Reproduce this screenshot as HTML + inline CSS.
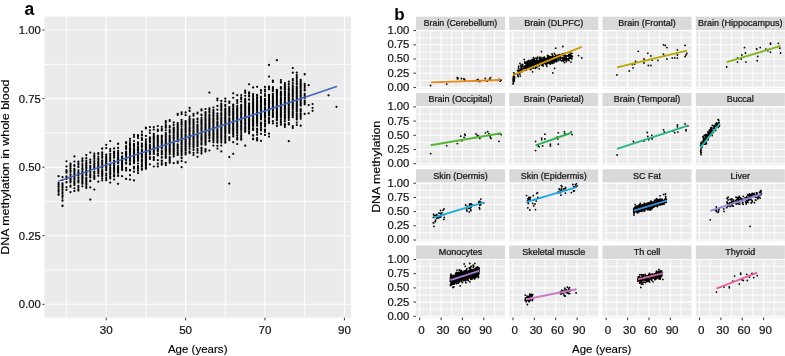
<!DOCTYPE html>
<html><head><meta charset="utf-8"><style>
html,body{margin:0;padding:0;background:#fff;}
body{width:785px;height:356px;overflow:hidden;}
svg{display:block;}
text{font-family:"Liberation Sans", Arial, sans-serif;}
</style></head><body>
<svg width="785" height="356" viewBox="0 0 785 356">
<rect width="785" height="356" fill="#fff"/>
<rect x="44.5" y="16.5" width="306.5" height="301.2" fill="#EBEBEB"/>
<path d="M66.5 16.5V317.7M145.9 16.5V317.7M225.3 16.5V317.7M304.7 16.5V317.7M44.5 270H351.0M44.5 201.4H351.0M44.5 132.9H351.0M44.5 64.3H351.0" stroke="#fff" stroke-width="0.9" fill="none"/>
<path d="M106.2 16.5V317.7M185.6 16.5V317.7M265 16.5V317.7M344.4 16.5V317.7M44.5 304.3H351.0M44.5 235.7H351.0M44.5 167.2H351.0M44.5 98.6H351.0M44.5 30H351.0" stroke="#fff" stroke-width="1.1" fill="none"/>
<path d="M58.6 186.9h0M58.6 184.5h0M58.6 189.1h0M58.6 194.0h0M58.6 190.5h0M58.6 194.8h0M58.6 186.4h0M58.6 176.2h0M58.6 190.8h0M58.6 191.8h0M58.6 183.0h0M58.6 184.1h0M58.6 186.1h0M58.6 194.3h0M62.5 185.8h0M62.5 180.0h0M62.5 196.3h0M62.5 189.2h0M62.5 200.7h0M62.5 195.9h0M62.5 200.3h0M62.5 187.4h0M62.5 195.7h0M62.5 183.4h0M62.5 184.3h0M62.5 187.0h0M62.5 205.7h0M62.5 189.9h0M62.5 185.9h0M62.5 184.6h0M62.5 197.8h0M62.5 189.4h0M62.5 193.4h0M62.5 192.0h0M62.5 177.1h0M62.5 192.0h0M66.5 170.2h0M66.5 182.0h0M66.5 178.2h0M66.5 176.5h0M66.5 176.8h0M66.5 187.2h0M66.5 176.7h0M66.5 166.4h0M66.5 189.8h0M66.5 170.4h0M66.5 176.4h0M66.5 182.5h0M66.5 161.3h0M66.5 171.2h0M66.5 187.0h0M66.5 176.7h0M66.5 172.7h0M66.5 178.9h0M66.5 171.9h0M70.5 172.0h0M70.5 164.4h0M70.5 181.4h0M70.5 174.3h0M70.5 179.7h0M70.5 175.0h0M70.5 185.6h0M70.5 180.7h0M70.5 177.6h0M70.5 168.7h0M70.5 166.7h0M70.5 186.7h0M70.5 182.4h0M70.5 170.8h0M70.5 192.1h0M70.5 179.7h0M70.5 176.8h0M70.5 165.8h0M70.5 170.4h0M70.5 178.6h0M70.5 179.0h0M70.5 178.0h0M70.5 163.7h0M70.5 179.4h0M70.5 178.4h0M74.4 161.5h0M74.4 183.7h0M74.4 174.7h0M74.4 178.2h0M74.4 165.2h0M74.4 169.3h0M74.4 174.8h0M74.4 169.2h0M74.4 177.4h0M74.4 166.1h0M74.4 174.7h0M74.4 169.9h0M74.4 185.1h0M74.4 171.8h0M74.4 188.3h0M74.4 191.1h0M74.4 177.1h0M74.4 181.9h0M74.4 173.3h0M74.4 156.4h0M74.4 181.4h0M74.4 179.7h0M74.4 173.0h0M74.4 170.6h0M74.4 176.1h0M74.4 176.3h0M74.4 168.9h0M74.4 170.4h0M74.4 183.0h0M74.4 175.3h0M74.4 174.3h0M74.4 183.2h0M74.4 172.5h0M74.4 181.6h0M78.4 172.6h0M78.4 178.1h0M78.4 174.2h0M78.4 189.6h0M78.4 182.5h0M78.4 170.3h0M78.4 190.6h0M78.4 166.4h0M78.4 187.5h0M78.4 167.1h0M78.4 180.2h0M78.4 166.9h0M78.4 172.2h0M78.4 185.8h0M78.4 163.1h0M78.4 161.5h0M78.4 173.8h0M78.4 175.5h0M78.4 174.6h0M78.4 181.2h0M78.4 164.3h0M78.4 177.7h0M82.4 179.5h0M82.4 177.1h0M82.4 182.4h0M82.4 161.6h0M82.4 173.2h0M82.4 164.0h0M82.4 171.8h0M82.4 177.6h0M82.4 174.6h0M82.4 176.5h0M82.4 171.9h0M82.4 175.0h0M82.4 174.4h0M82.4 183.2h0M82.4 178.5h0M82.4 158.4h0M82.4 177.4h0M82.4 180.6h0M82.4 169.2h0M82.4 160.4h0M82.4 183.8h0M82.4 173.6h0M82.4 177.1h0M82.4 186.3h0M82.4 165.9h0M82.4 172.1h0M82.4 171.3h0M82.4 178.1h0M82.4 168.2h0M82.4 176.3h0M82.4 173.1h0M82.4 181.0h0M82.4 181.9h0M82.4 161.0h0M82.4 176.1h0M82.4 169.5h0M82.4 172.2h0M86.3 186.1h0M86.3 173.1h0M86.3 171.8h0M86.3 170.4h0M86.3 160.9h0M86.3 165.0h0M86.3 167.4h0M86.3 175.2h0M86.3 181.9h0M86.3 162.8h0M86.3 162.6h0M86.3 171.7h0M86.3 166.1h0M86.3 164.1h0M86.3 163.7h0M86.3 163.0h0M86.3 174.3h0M86.3 158.1h0M86.3 180.8h0M86.3 163.5h0M86.3 166.5h0M86.3 163.4h0M86.3 155.1h0M86.3 158.4h0M86.3 180.0h0M86.3 184.5h0M86.3 163.9h0M86.3 178.9h0M86.3 170.7h0M86.3 163.7h0M86.3 184.1h0M86.3 187.9h0M86.3 168.4h0M86.3 170.2h0M86.3 172.6h0M86.3 170.3h0M86.3 177.7h0M86.3 183.0h0M86.3 171.9h0M90.3 199.6h0M90.3 169.7h0M90.3 165.9h0M90.3 177.4h0M90.3 174.7h0M90.3 177.5h0M90.3 176.5h0M90.3 167.6h0M90.3 175.7h0M90.3 166.3h0M90.3 166.4h0M90.3 152.5h0M90.3 180.7h0M90.3 161.9h0M90.3 170.0h0M90.3 169.3h0M90.3 181.2h0M90.3 173.0h0M90.3 163.1h0M90.3 169.9h0M90.3 168.6h0M90.3 171.6h0M90.3 159.7h0M90.3 169.4h0M90.3 187.4h0M90.3 174.9h0M94.3 167.7h0M94.3 172.3h0M94.3 156.8h0M94.3 167.5h0M94.3 177.6h0M94.3 175.7h0M94.3 158.5h0M94.3 166.6h0M94.3 167.5h0M94.3 168.3h0M94.3 167.6h0M94.3 161.2h0M94.3 163.3h0M94.3 166.1h0M94.3 176.5h0M94.3 163.6h0M94.3 173.6h0M94.3 158.8h0M94.3 178.4h0M94.3 169.0h0M94.3 167.9h0M94.3 178.9h0M94.3 153.6h0M94.3 155.7h0M94.3 171.7h0M94.3 161.5h0M94.3 164.7h0M94.3 189.6h0M94.3 165.8h0M94.3 168.4h0M98.3 173.5h0M98.3 168.0h0M98.3 156.6h0M98.3 163.7h0M98.3 166.6h0M98.3 153.8h0M98.3 171.1h0M98.3 169.8h0M98.3 181.7h0M98.3 153.4h0M98.3 158.5h0M98.3 158.9h0M98.3 160.9h0M98.3 165.6h0M98.3 164.7h0M98.3 168.6h0M98.3 168.2h0M98.3 166.1h0M98.3 153.9h0M98.3 161.9h0M98.3 167.0h0M98.3 171.4h0M98.3 171.8h0M98.3 153.2h0M98.3 162.3h0M98.3 166.0h0M98.3 169.4h0M98.3 175.8h0M98.3 167.1h0M98.3 159.2h0M102.2 180.5h0M102.2 164.2h0M102.2 178.5h0M102.2 167.1h0M102.2 172.3h0M102.2 157.8h0M102.2 171.6h0M102.2 160.3h0M102.2 152.4h0M102.2 167.8h0M102.2 170.2h0M102.2 163.6h0M102.2 165.2h0M102.2 173.5h0M102.2 161.3h0M102.2 148.3h0M102.2 167.3h0M102.2 166.9h0M102.2 173.9h0M102.2 162.5h0M102.2 175.6h0M102.2 174.4h0M102.2 154.4h0M102.2 172.8h0M102.2 156.1h0M102.2 152.4h0M102.2 163.0h0M102.2 160.5h0M102.2 148.8h0M102.2 166.8h0M102.2 170.1h0M102.2 176.5h0M102.2 164.8h0M102.2 152.8h0M102.2 157.1h0M106.2 166.9h0M106.2 161.4h0M106.2 165.5h0M106.2 162.0h0M106.2 161.3h0M106.2 166.3h0M106.2 164.2h0M106.2 162.1h0M106.2 164.5h0M106.2 159.6h0M106.2 148.1h0M106.2 158.8h0M106.2 163.3h0M106.2 178.0h0M106.2 160.5h0M106.2 180.2h0M106.2 175.7h0M106.2 156.6h0M106.2 157.9h0M106.2 165.1h0M106.2 178.2h0M106.2 166.9h0M106.2 169.5h0M106.2 158.5h0M106.2 144.8h0M106.2 162.0h0M106.2 170.4h0M106.2 173.7h0M106.2 164.3h0M106.2 165.3h0M106.2 173.5h0M106.2 162.8h0M106.2 173.5h0M106.2 154.5h0M106.2 154.9h0M106.2 154.7h0M106.2 167.8h0M106.2 159.5h0M110.2 182.6h0M110.2 173.4h0M110.2 174.7h0M110.2 155.7h0M110.2 164.1h0M110.2 160.6h0M110.2 154.0h0M110.2 177.1h0M110.2 169.1h0M110.2 161.0h0M110.2 159.1h0M110.2 165.6h0M110.2 153.8h0M110.2 160.7h0M110.2 172.7h0M110.2 170.3h0M110.2 155.7h0M110.2 158.5h0M110.2 178.5h0M110.2 151.1h0M110.2 157.4h0M110.2 151.1h0M110.2 165.7h0M110.2 165.0h0M110.2 172.0h0M110.2 141.0h0M110.2 163.9h0M110.2 149.0h0M110.2 167.9h0M110.2 161.1h0M110.2 176.6h0M110.2 165.7h0M110.2 154.1h0M114.1 179.5h0M114.1 170.0h0M114.1 165.4h0M114.1 165.0h0M114.1 161.5h0M114.1 165.7h0M114.1 168.1h0M114.1 163.7h0M114.1 169.8h0M114.1 172.1h0M114.1 161.5h0M114.1 153.6h0M114.1 174.1h0M114.1 161.1h0M114.1 166.6h0M114.1 169.4h0M114.1 153.9h0M114.1 165.5h0M114.1 148.4h0M114.1 167.7h0M114.1 157.8h0M114.1 163.0h0M114.1 167.5h0M114.1 156.1h0M114.1 162.4h0M114.1 156.0h0M114.1 161.5h0M114.1 170.3h0M114.1 162.0h0M114.1 160.7h0M114.1 153.0h0M114.1 168.8h0M114.1 161.4h0M114.1 175.7h0M114.1 155.6h0M114.1 170.3h0M114.1 176.5h0M114.1 161.6h0M114.1 151.7h0M114.1 174.1h0M114.1 170.3h0M114.1 167.4h0M118.1 161.4h0M118.1 165.9h0M118.1 154.8h0M118.1 166.2h0M118.1 156.1h0M118.1 168.0h0M118.1 170.1h0M118.1 175.4h0M118.1 143.9h0M118.1 162.5h0M118.1 157.7h0M118.1 160.0h0M118.1 158.4h0M118.1 159.3h0M118.1 143.5h0M118.1 168.6h0M118.1 173.0h0M118.1 168.4h0M118.1 171.1h0M118.1 153.4h0M118.1 152.8h0M118.1 168.0h0M118.1 171.6h0M118.1 162.8h0M118.1 147.9h0M118.1 183.8h0M118.1 155.3h0M118.1 168.9h0M118.1 150.9h0M118.1 169.0h0M118.1 162.2h0M118.1 172.6h0M118.1 168.1h0M118.1 147.9h0M118.1 152.8h0M118.1 163.2h0M118.1 167.2h0M118.1 175.9h0M118.1 163.1h0M118.1 160.0h0M118.1 160.5h0M118.1 160.6h0M118.1 169.3h0M118.1 160.3h0M122.1 166.3h0M122.1 159.6h0M122.1 165.0h0M122.1 159.0h0M122.1 163.6h0M122.1 164.8h0M122.1 158.9h0M122.1 167.3h0M122.1 153.2h0M122.1 159.3h0M122.1 156.3h0M122.1 160.0h0M122.1 164.6h0M122.1 166.5h0M122.1 160.4h0M122.1 163.1h0M122.1 156.4h0M122.1 158.4h0M122.1 170.1h0M122.1 157.8h0M122.1 169.9h0M122.1 163.7h0M122.1 160.9h0M122.1 176.2h0M122.1 157.6h0M122.1 157.1h0M122.1 159.8h0M122.1 162.0h0M122.1 161.6h0M122.1 166.8h0M122.1 160.7h0M122.1 163.1h0M122.1 157.6h0M122.1 168.7h0M122.1 156.4h0M122.1 157.2h0M122.1 159.6h0M126.1 146.8h0M126.1 153.1h0M126.1 155.0h0M126.1 154.6h0M126.1 153.8h0M126.1 162.7h0M126.1 159.3h0M126.1 151.6h0M126.1 153.3h0M126.1 155.3h0M126.1 170.1h0M126.1 152.4h0M126.1 147.0h0M126.1 148.4h0M126.1 155.0h0M126.1 170.5h0M126.1 148.9h0M126.1 158.3h0M126.1 178.9h0M126.1 153.8h0M126.1 169.9h0M126.1 168.2h0M126.1 162.5h0M126.1 146.1h0M126.1 160.2h0M126.1 154.7h0M126.1 142.0h0M126.1 143.3h0M126.1 157.9h0M126.1 159.1h0M126.1 167.9h0M126.1 163.0h0M126.1 153.4h0M126.1 153.6h0M126.1 156.1h0M126.1 148.5h0M126.1 163.7h0M126.1 157.5h0M130.0 144.6h0M130.0 152.3h0M130.0 158.4h0M130.0 152.6h0M130.0 164.4h0M130.0 169.9h0M130.0 150.7h0M130.0 156.2h0M130.0 153.0h0M130.0 170.4h0M130.0 158.9h0M130.0 160.9h0M130.0 163.2h0M130.0 175.2h0M130.0 158.6h0M130.0 147.9h0M130.0 152.4h0M130.0 160.9h0M130.0 155.8h0M130.0 149.2h0M130.0 179.6h0M130.0 156.8h0M130.0 151.0h0M130.0 149.8h0M130.0 141.0h0M130.0 145.9h0M130.0 153.0h0M130.0 153.1h0M130.0 148.9h0M130.0 160.4h0M130.0 156.0h0M130.0 147.9h0M130.0 138.8h0M130.0 157.1h0M130.0 156.1h0M130.0 154.0h0M130.0 144.1h0M130.0 156.0h0M130.0 143.0h0M130.0 164.1h0M130.0 157.3h0M130.0 157.4h0M134.0 180.4h0M134.0 171.7h0M134.0 151.4h0M134.0 160.1h0M134.0 167.6h0M134.0 145.3h0M134.0 150.1h0M134.0 150.1h0M134.0 158.5h0M134.0 145.4h0M134.0 156.4h0M134.0 144.8h0M134.0 162.3h0M134.0 161.8h0M134.0 152.6h0M134.0 160.4h0M134.0 148.5h0M134.0 152.1h0M134.0 162.4h0M134.0 153.7h0M134.0 157.4h0M134.0 146.4h0M134.0 159.8h0M134.0 158.2h0M134.0 143.8h0M134.0 134.9h0M134.0 137.0h0M134.0 153.8h0M134.0 152.4h0M134.0 141.0h0M134.0 155.4h0M134.0 162.8h0M134.0 153.3h0M134.0 150.4h0M134.0 161.5h0M134.0 168.6h0M134.0 166.8h0M134.0 148.6h0M134.0 160.9h0M134.0 155.6h0M134.0 152.5h0M134.0 149.0h0M134.0 157.3h0M134.0 150.0h0M134.0 162.1h0M134.0 157.5h0M134.0 163.2h0M134.0 144.5h0M134.0 154.6h0M134.0 160.8h0M134.0 157.4h0M134.0 156.3h0M134.0 148.3h0M138.0 149.4h0M138.0 144.7h0M138.0 154.0h0M138.0 146.8h0M138.0 135.0h0M138.0 155.0h0M138.0 156.2h0M138.0 142.4h0M138.0 148.7h0M138.0 147.1h0M138.0 157.4h0M138.0 136.2h0M138.0 138.1h0M138.0 148.1h0M138.0 147.0h0M138.0 170.7h0M138.0 147.4h0M138.0 154.7h0M138.0 149.2h0M138.0 147.0h0M138.0 156.0h0M138.0 167.7h0M138.0 149.8h0M138.0 159.5h0M138.0 155.9h0M138.0 158.3h0M138.0 156.0h0M138.0 173.1h0M138.0 142.4h0M138.0 150.8h0M138.0 143.3h0M138.0 135.7h0M138.0 152.8h0M138.0 168.7h0M138.0 160.8h0M138.0 163.5h0M138.0 157.4h0M138.0 152.3h0M138.0 170.5h0M138.0 150.0h0M138.0 166.2h0M141.9 163.0h0M141.9 146.9h0M141.9 156.4h0M141.9 157.0h0M141.9 166.4h0M141.9 151.9h0M141.9 135.5h0M141.9 134.3h0M141.9 140.1h0M141.9 145.5h0M141.9 157.6h0M141.9 139.0h0M141.9 152.1h0M141.9 152.2h0M141.9 154.2h0M141.9 150.8h0M141.9 155.5h0M141.9 152.4h0M141.9 161.1h0M141.9 154.9h0M141.9 131.7h0M141.9 152.3h0M141.9 153.7h0M141.9 147.0h0M141.9 145.4h0M141.9 161.4h0M141.9 153.5h0M141.9 143.6h0M141.9 149.3h0M141.9 150.6h0M141.9 138.0h0M141.9 157.6h0M141.9 150.9h0M141.9 156.2h0M141.9 138.6h0M141.9 168.7h0M141.9 157.5h0M141.9 156.3h0M141.9 145.8h0M141.9 146.3h0M141.9 139.4h0M141.9 165.4h0M141.9 145.1h0M141.9 154.2h0M141.9 157.5h0M141.9 146.9h0M141.9 159.7h0M141.9 169.8h0M141.9 154.9h0M141.9 164.8h0M145.9 164.1h0M145.9 128.4h0M145.9 163.8h0M145.9 156.9h0M145.9 158.4h0M145.9 161.0h0M145.9 146.5h0M145.9 156.0h0M145.9 167.7h0M145.9 144.2h0M145.9 151.3h0M145.9 147.2h0M145.9 149.4h0M145.9 144.7h0M145.9 150.0h0M145.9 139.4h0M145.9 146.6h0M145.9 146.8h0M145.9 146.7h0M145.9 163.1h0M145.9 151.7h0M145.9 152.6h0M145.9 148.5h0M145.9 162.2h0M145.9 135.9h0M145.9 149.4h0M145.9 161.0h0M145.9 165.3h0M145.9 152.8h0M145.9 151.1h0M145.9 156.6h0M145.9 149.5h0M145.9 155.9h0M145.9 145.4h0M145.9 156.7h0M145.9 150.6h0M145.9 141.7h0M145.9 127.7h0M145.9 159.2h0M145.9 154.4h0M145.9 157.7h0M145.9 143.4h0M145.9 160.4h0M145.9 154.6h0M145.9 150.6h0M145.9 158.9h0M145.9 158.7h0M145.9 154.5h0M145.9 168.8h0M145.9 163.0h0M145.9 153.9h0M145.9 149.0h0M145.9 151.9h0M145.9 165.9h0M145.9 154.4h0M145.9 143.3h0M145.9 145.4h0M145.9 151.0h0M145.9 158.1h0M145.9 144.7h0M145.9 155.4h0M145.9 160.6h0M149.9 139.5h0M149.9 153.2h0M149.9 140.6h0M149.9 154.3h0M149.9 150.3h0M149.9 127.0h0M149.9 142.2h0M149.9 153.4h0M149.9 149.7h0M149.9 146.1h0M149.9 138.2h0M149.9 153.3h0M149.9 164.3h0M149.9 151.4h0M149.9 148.8h0M149.9 148.0h0M149.9 137.3h0M149.9 146.1h0M149.9 141.8h0M149.9 158.7h0M149.9 141.3h0M149.9 130.4h0M149.9 142.1h0M149.9 146.7h0M149.9 147.6h0M149.9 133.1h0M149.9 157.1h0M149.9 149.9h0M149.9 144.9h0M149.9 142.4h0M149.9 152.8h0M149.9 146.2h0M149.9 151.4h0M149.9 147.9h0M149.9 150.1h0M149.9 159.0h0M149.9 149.1h0M149.9 141.2h0M149.9 157.5h0M149.9 151.1h0M153.8 143.0h0M153.8 157.0h0M153.8 137.5h0M153.8 127.1h0M153.8 129.6h0M153.8 149.5h0M153.8 141.0h0M153.8 146.5h0M153.8 146.7h0M153.8 133.8h0M153.8 159.3h0M153.8 138.2h0M153.8 148.0h0M153.8 135.1h0M153.8 145.9h0M153.8 153.6h0M153.8 145.1h0M153.8 141.1h0M153.8 147.3h0M153.8 143.3h0M153.8 152.2h0M153.8 166.5h0M153.8 139.6h0M153.8 141.4h0M153.8 146.3h0M153.8 147.0h0M153.8 138.4h0M153.8 151.6h0M153.8 153.9h0M153.8 149.3h0M153.8 137.0h0M153.8 159.9h0M153.8 137.0h0M153.8 153.3h0M153.8 157.4h0M153.8 136.4h0M153.8 148.4h0M153.8 159.1h0M153.8 150.8h0M153.8 139.3h0M153.8 137.0h0M153.8 151.4h0M153.8 144.0h0M153.8 141.2h0M153.8 153.3h0M157.8 149.9h0M157.8 150.6h0M157.8 145.6h0M157.8 146.0h0M157.8 151.3h0M157.8 150.0h0M157.8 136.3h0M157.8 144.3h0M157.8 138.3h0M157.8 135.5h0M157.8 141.0h0M157.8 126.0h0M157.8 153.6h0M157.8 139.0h0M157.8 149.1h0M157.8 129.7h0M157.8 131.1h0M157.8 163.7h0M157.8 154.9h0M157.8 140.3h0M157.8 139.2h0M157.8 139.7h0M157.8 146.9h0M157.8 142.2h0M157.8 140.4h0M157.8 146.9h0M157.8 137.1h0M157.8 166.4h0M157.8 140.6h0M157.8 155.5h0M157.8 137.7h0M157.8 148.3h0M157.8 154.2h0M157.8 142.9h0M157.8 154.4h0M157.8 154.4h0M157.8 160.2h0M157.8 146.5h0M157.8 141.8h0M157.8 137.1h0M157.8 147.5h0M157.8 136.9h0M157.8 146.1h0M157.8 147.1h0M157.8 141.1h0M157.8 136.8h0M157.8 149.3h0M157.8 148.4h0M161.8 146.7h0M161.8 135.7h0M161.8 148.5h0M161.8 140.7h0M161.8 152.3h0M161.8 141.7h0M161.8 141.4h0M161.8 148.6h0M161.8 126.8h0M161.8 141.6h0M161.8 129.0h0M161.8 136.3h0M161.8 150.8h0M161.8 148.3h0M161.8 141.0h0M161.8 144.3h0M161.8 144.4h0M161.8 147.4h0M161.8 161.1h0M161.8 146.9h0M161.8 164.7h0M161.8 141.6h0M161.8 151.4h0M161.8 151.3h0M161.8 146.8h0M161.8 142.4h0M161.8 157.7h0M161.8 160.5h0M161.8 154.4h0M161.8 163.2h0M161.8 153.5h0M161.8 130.6h0M161.8 154.3h0M161.8 139.1h0M161.8 157.2h0M161.8 142.2h0M161.8 147.7h0M161.8 145.4h0M161.8 139.8h0M161.8 129.2h0M161.8 143.1h0M161.8 143.8h0M161.8 153.6h0M161.8 139.7h0M161.8 147.1h0M161.8 137.4h0M165.8 127.8h0M165.8 138.7h0M165.8 135.6h0M165.8 146.7h0M165.8 150.7h0M165.8 145.9h0M165.8 155.9h0M165.8 142.5h0M165.8 121.6h0M165.8 133.2h0M165.8 153.5h0M165.8 151.4h0M165.8 147.2h0M165.8 134.5h0M165.8 150.9h0M165.8 149.7h0M165.8 135.6h0M165.8 135.8h0M165.8 146.9h0M165.8 153.6h0M165.8 157.5h0M165.8 149.8h0M165.8 163.6h0M165.8 136.8h0M165.8 149.2h0M165.8 139.2h0M165.8 126.7h0M165.8 133.0h0M165.8 153.9h0M165.8 135.7h0M165.8 133.1h0M165.8 150.2h0M165.8 152.1h0M165.8 144.5h0M165.8 157.9h0M165.8 130.3h0M165.8 165.2h0M165.8 153.5h0M165.8 146.0h0M165.8 145.6h0M165.8 142.0h0M165.8 141.1h0M165.8 145.5h0M165.8 133.3h0M165.8 162.8h0M165.8 143.5h0M165.8 150.0h0M165.8 142.3h0M165.8 141.5h0M165.8 151.7h0M165.8 149.3h0M165.8 136.4h0M165.8 140.4h0M165.8 149.6h0M165.8 125.2h0M165.8 122.8h0M165.8 156.7h0M165.8 140.8h0M165.8 121.0h0M165.8 136.5h0M165.8 141.5h0M165.8 145.4h0M165.8 148.4h0M165.8 145.4h0M165.8 148.5h0M165.8 136.8h0M165.8 147.1h0M165.8 147.5h0M165.8 154.3h0M165.8 144.0h0M165.8 151.6h0M165.8 145.2h0M169.7 157.2h0M169.7 152.2h0M169.7 143.3h0M169.7 145.0h0M169.7 135.3h0M169.7 152.0h0M169.7 130.1h0M169.7 141.9h0M169.7 148.9h0M169.7 146.6h0M169.7 148.3h0M169.7 140.7h0M169.7 148.7h0M169.7 131.9h0M169.7 149.2h0M169.7 162.7h0M169.7 148.8h0M169.7 160.3h0M169.7 142.5h0M169.7 132.6h0M169.7 136.3h0M169.7 154.3h0M169.7 149.1h0M169.7 126.1h0M169.7 139.3h0M169.7 142.1h0M169.7 132.6h0M169.7 120.0h0M169.7 130.5h0M169.7 140.9h0M169.7 139.0h0M169.7 136.6h0M169.7 147.7h0M169.7 151.7h0M169.7 141.7h0M169.7 150.7h0M169.7 142.7h0M169.7 141.3h0M169.7 121.0h0M169.7 149.9h0M169.7 143.3h0M169.7 143.7h0M169.7 138.2h0M169.7 132.7h0M169.7 146.6h0M169.7 149.6h0M169.7 157.0h0M169.7 150.5h0M169.7 137.3h0M169.7 141.8h0M169.7 151.3h0M169.7 145.5h0M169.7 141.9h0M169.7 137.6h0M169.7 147.5h0M169.7 144.4h0M169.7 158.6h0M169.7 152.6h0M169.7 127.6h0M169.7 161.9h0M169.7 145.2h0M169.7 140.2h0M169.7 145.6h0M169.7 149.5h0M169.7 142.7h0M169.7 142.2h0M169.7 142.9h0M169.7 159.1h0M169.7 143.5h0M173.7 129.0h0M173.7 149.9h0M173.7 145.3h0M173.7 132.4h0M173.7 130.2h0M173.7 130.5h0M173.7 128.2h0M173.7 142.1h0M173.7 142.4h0M173.7 133.3h0M173.7 153.2h0M173.7 138.9h0M173.7 145.6h0M173.7 144.2h0M173.7 156.6h0M173.7 148.9h0M173.7 141.0h0M173.7 132.8h0M173.7 131.8h0M173.7 141.6h0M173.7 142.5h0M173.7 148.4h0M173.7 137.2h0M173.7 143.1h0M173.7 135.3h0M173.7 124.9h0M173.7 141.1h0M173.7 154.4h0M173.7 148.6h0M173.7 154.0h0M173.7 151.7h0M173.7 129.0h0M173.7 138.8h0M173.7 154.6h0M173.7 134.9h0M173.7 129.4h0M173.7 144.1h0M173.7 147.0h0M173.7 143.9h0M173.7 138.2h0M173.7 135.0h0M173.7 130.1h0M173.7 129.8h0M173.7 130.1h0M173.7 128.5h0M173.7 134.8h0M173.7 154.7h0M173.7 142.0h0M173.7 138.0h0M173.7 144.3h0M173.7 132.6h0M173.7 144.1h0M173.7 149.2h0M173.7 127.7h0M173.7 134.8h0M173.7 138.8h0M173.7 132.4h0M173.7 131.2h0M173.7 137.7h0M173.7 163.1h0M173.7 147.0h0M173.7 145.0h0M173.7 149.8h0M173.7 139.0h0M173.7 130.0h0M173.7 145.2h0M173.7 151.1h0M173.7 122.4h0M173.7 144.9h0M173.7 152.0h0M173.7 138.7h0M173.7 137.0h0M173.7 147.2h0M177.7 153.1h0M177.7 161.7h0M177.7 139.6h0M177.7 136.5h0M177.7 140.3h0M177.7 113.8h0M177.7 145.9h0M177.7 126.9h0M177.7 139.9h0M177.7 140.6h0M177.7 132.9h0M177.7 131.3h0M177.7 127.9h0M177.7 136.5h0M177.7 144.9h0M177.7 144.4h0M177.7 134.8h0M177.7 134.2h0M177.7 126.7h0M177.7 135.7h0M177.7 129.8h0M177.7 125.7h0M177.7 138.0h0M177.7 153.0h0M177.7 150.2h0M177.7 152.6h0M177.7 125.0h0M177.7 147.2h0M177.7 128.3h0M177.7 134.1h0M177.7 123.9h0M177.7 130.3h0M177.7 140.4h0M177.7 141.3h0M177.7 138.7h0M177.7 137.9h0M177.7 144.3h0M177.7 139.8h0M177.7 124.8h0M177.7 155.0h0M177.7 137.1h0M177.7 147.7h0M177.7 137.8h0M177.7 131.8h0M177.7 140.0h0M177.7 132.4h0M177.7 154.0h0M177.7 129.4h0M177.7 145.0h0M177.7 133.8h0M177.7 137.8h0M177.7 163.0h0M177.7 146.4h0M177.7 137.5h0M177.7 125.3h0M177.7 136.9h0M177.7 137.1h0M177.7 152.3h0M177.7 126.4h0M177.7 123.0h0M177.7 139.2h0M177.7 141.5h0M177.7 154.2h0M177.7 131.4h0M177.7 114.9h0M177.7 132.9h0M177.7 128.0h0M177.7 134.5h0M177.7 148.4h0M177.7 127.3h0M177.7 150.7h0M177.7 141.4h0M177.7 136.9h0M177.7 131.4h0M177.7 135.7h0M177.7 136.0h0M181.6 167.2h0M181.6 137.7h0M181.6 142.6h0M181.6 155.1h0M181.6 150.4h0M181.6 153.1h0M181.6 136.5h0M181.6 134.4h0M181.6 119.8h0M181.6 151.8h0M181.6 144.3h0M181.6 129.8h0M181.6 140.1h0M181.6 141.1h0M181.6 122.5h0M181.6 141.2h0M181.6 148.7h0M181.6 150.2h0M181.6 135.1h0M181.6 135.3h0M181.6 150.7h0M181.6 147.1h0M181.6 133.2h0M181.6 132.8h0M181.6 144.0h0M181.6 132.4h0M181.6 132.9h0M181.6 154.4h0M181.6 141.0h0M181.6 134.3h0M181.6 143.4h0M181.6 157.7h0M181.6 140.7h0M181.6 131.2h0M181.6 123.7h0M181.6 158.2h0M181.6 114.2h0M181.6 148.4h0M181.6 129.4h0M181.6 126.8h0M181.6 129.1h0M181.6 136.8h0M181.6 148.7h0M181.6 132.4h0M181.6 144.7h0M181.6 161.2h0M181.6 112.3h0M181.6 131.6h0M181.6 121.5h0M181.6 146.5h0M181.6 124.7h0M181.6 123.6h0M181.6 123.9h0M181.6 138.3h0M181.6 149.1h0M181.6 139.7h0M181.6 158.3h0M185.6 127.1h0M185.6 147.4h0M185.6 152.9h0M185.6 124.9h0M185.6 137.2h0M185.6 125.7h0M185.6 143.9h0M185.6 139.9h0M185.6 128.4h0M185.6 148.2h0M185.6 139.3h0M185.6 148.9h0M185.6 135.7h0M185.6 121.8h0M185.6 143.7h0M185.6 134.7h0M185.6 145.0h0M185.6 147.3h0M185.6 148.1h0M185.6 123.4h0M185.6 115.1h0M185.6 132.3h0M185.6 143.3h0M185.6 130.3h0M185.6 139.8h0M185.6 129.4h0M185.6 134.1h0M185.6 134.2h0M185.6 131.2h0M185.6 142.1h0M185.6 140.5h0M185.6 152.6h0M185.6 140.8h0M185.6 149.8h0M185.6 138.1h0M185.6 145.6h0M185.6 135.8h0M185.6 132.6h0M185.6 149.8h0M185.6 144.2h0M185.6 145.4h0M185.6 129.9h0M185.6 121.1h0M185.6 128.9h0M185.6 140.0h0M185.6 123.3h0M185.6 150.7h0M185.6 123.0h0M185.6 142.8h0M185.6 162.3h0M185.6 112.4h0M185.6 122.3h0M185.6 146.2h0M185.6 135.2h0M185.6 138.7h0M185.6 135.8h0M185.6 150.4h0M185.6 143.0h0M185.6 132.5h0M185.6 134.7h0M185.6 125.8h0M185.6 136.0h0M185.6 115.2h0M185.6 143.3h0M185.6 134.4h0M185.6 154.4h0M185.6 148.3h0M185.6 124.6h0M185.6 145.4h0M185.6 131.9h0M185.6 137.3h0M185.6 146.4h0M185.6 140.0h0M185.6 141.5h0M185.6 141.2h0M185.6 129.8h0M189.6 152.0h0M189.6 121.6h0M189.6 110.9h0M189.6 127.6h0M189.6 135.7h0M189.6 137.0h0M189.6 143.3h0M189.6 143.8h0M189.6 144.7h0M189.6 139.1h0M189.6 139.4h0M189.6 128.6h0M189.6 139.1h0M189.6 137.2h0M189.6 146.7h0M189.6 120.3h0M189.6 130.7h0M189.6 118.9h0M189.6 128.1h0M189.6 121.7h0M189.6 137.7h0M189.6 128.8h0M189.6 110.5h0M189.6 146.7h0M189.6 124.6h0M189.6 119.8h0M189.6 131.5h0M189.6 128.4h0M189.6 123.6h0M189.6 141.6h0M189.6 131.6h0M189.6 143.6h0M189.6 141.8h0M189.6 141.2h0M189.6 136.8h0M189.6 134.0h0M189.6 131.1h0M189.6 148.8h0M189.6 116.7h0M189.6 124.5h0M189.6 128.6h0M189.6 138.8h0M189.6 136.3h0M189.6 130.2h0M189.6 131.5h0M189.6 151.3h0M189.6 128.4h0M189.6 107.9h0M189.6 152.9h0M189.6 126.0h0M189.6 131.9h0M189.6 136.5h0M189.6 122.4h0M189.6 146.6h0M189.6 133.9h0M189.6 121.6h0M189.6 137.3h0M189.6 139.4h0M189.6 134.3h0M189.6 139.6h0M189.6 120.8h0M193.5 128.3h0M193.5 147.6h0M193.5 132.9h0M193.5 134.1h0M193.5 144.2h0M193.5 138.3h0M193.5 119.4h0M193.5 144.7h0M193.5 144.2h0M193.5 120.4h0M193.5 133.0h0M193.5 119.4h0M193.5 131.0h0M193.5 142.5h0M193.5 134.7h0M193.5 122.4h0M193.5 125.1h0M193.5 134.1h0M193.5 133.6h0M193.5 135.1h0M193.5 139.6h0M193.5 115.7h0M193.5 134.0h0M193.5 144.8h0M193.5 138.6h0M193.5 127.1h0M193.5 128.0h0M193.5 135.4h0M193.5 140.4h0M193.5 133.8h0M193.5 150.0h0M193.5 146.5h0M193.5 126.5h0M193.5 138.6h0M193.5 130.5h0M193.5 122.5h0M193.5 127.9h0M193.5 133.9h0M193.5 113.8h0M193.5 127.7h0M193.5 137.4h0M193.5 127.1h0M193.5 130.2h0M193.5 142.2h0M193.5 133.4h0M193.5 135.6h0M193.5 152.8h0M193.5 135.7h0M193.5 136.8h0M193.5 138.2h0M193.5 149.7h0M193.5 137.4h0M193.5 134.4h0M193.5 133.1h0M193.5 144.9h0M193.5 128.0h0M193.5 145.6h0M193.5 136.2h0M193.5 121.6h0M193.5 140.7h0M193.5 138.9h0M193.5 123.8h0M193.5 137.7h0M193.5 136.9h0M193.5 132.0h0M193.5 124.1h0M193.5 155.0h0M193.5 141.9h0M193.5 143.6h0M193.5 144.4h0M193.5 142.2h0M193.5 142.0h0M193.5 131.2h0M193.5 142.5h0M193.5 132.9h0M197.5 156.8h0M197.5 150.6h0M197.5 133.3h0M197.5 141.4h0M197.5 130.1h0M197.5 124.5h0M197.5 140.5h0M197.5 134.7h0M197.5 122.1h0M197.5 137.4h0M197.5 130.9h0M197.5 142.4h0M197.5 140.5h0M197.5 137.6h0M197.5 112.5h0M197.5 136.5h0M197.5 137.6h0M197.5 137.9h0M197.5 134.3h0M197.5 126.6h0M197.5 130.9h0M197.5 113.6h0M197.5 130.7h0M197.5 119.3h0M197.5 130.1h0M197.5 127.1h0M197.5 146.1h0M197.5 133.9h0M197.5 133.4h0M197.5 135.0h0M197.5 152.7h0M197.5 124.5h0M197.5 136.3h0M197.5 136.8h0M197.5 135.1h0M197.5 134.8h0M197.5 128.9h0M197.5 144.5h0M197.5 141.4h0M197.5 130.0h0M197.5 131.4h0M197.5 136.2h0M197.5 138.0h0M197.5 140.5h0M197.5 133.3h0M197.5 121.7h0M197.5 142.6h0M197.5 118.5h0M197.5 124.9h0M197.5 136.9h0M197.5 125.4h0M197.5 146.3h0M197.5 148.8h0M197.5 144.7h0M197.5 136.5h0M197.5 135.7h0M197.5 137.5h0M197.5 131.8h0M197.5 152.6h0M197.5 128.1h0M197.5 145.9h0M197.5 138.9h0M197.5 136.6h0M197.5 143.5h0M201.5 109.3h0M201.5 140.7h0M201.5 140.6h0M201.5 138.8h0M201.5 140.0h0M201.5 127.2h0M201.5 150.4h0M201.5 119.8h0M201.5 135.9h0M201.5 138.7h0M201.5 128.2h0M201.5 121.7h0M201.5 128.2h0M201.5 121.5h0M201.5 130.1h0M201.5 119.9h0M201.5 119.7h0M201.5 132.3h0M201.5 117.9h0M201.5 129.8h0M201.5 130.5h0M201.5 140.0h0M201.5 134.1h0M201.5 124.1h0M201.5 143.6h0M201.5 125.3h0M201.5 128.1h0M201.5 128.8h0M201.5 152.0h0M201.5 132.3h0M201.5 125.3h0M201.5 138.5h0M201.5 130.5h0M201.5 153.6h0M201.5 125.1h0M201.5 137.5h0M201.5 123.2h0M201.5 148.6h0M201.5 124.9h0M201.5 133.6h0M201.5 123.8h0M201.5 140.0h0M201.5 137.1h0M201.5 110.4h0M201.5 139.1h0M201.5 138.0h0M201.5 133.9h0M201.5 140.9h0M201.5 120.2h0M201.5 115.3h0M201.5 137.9h0M201.5 147.5h0M201.5 120.4h0M201.5 121.0h0M201.5 123.7h0M201.5 120.6h0M201.5 139.5h0M201.5 132.9h0M201.5 144.3h0M201.5 144.6h0M201.5 122.2h0M201.5 137.6h0M201.5 110.1h0M201.5 130.7h0M201.5 137.3h0M201.5 123.9h0M201.5 114.5h0M201.5 126.8h0M201.5 142.7h0M201.5 127.9h0M205.5 136.1h0M205.5 149.4h0M205.5 113.9h0M205.5 133.6h0M205.5 137.1h0M205.5 127.2h0M205.5 129.0h0M205.5 119.2h0M205.5 123.4h0M205.5 144.7h0M205.5 126.2h0M205.5 121.6h0M205.5 125.7h0M205.5 120.3h0M205.5 135.2h0M205.5 138.9h0M205.5 121.3h0M205.5 140.0h0M205.5 150.3h0M205.5 120.4h0M205.5 136.8h0M205.5 132.9h0M205.5 143.1h0M205.5 142.4h0M205.5 140.9h0M205.5 133.4h0M205.5 126.5h0M205.5 151.6h0M205.5 123.0h0M205.5 141.1h0M205.5 140.0h0M205.5 123.7h0M205.5 130.7h0M205.5 144.4h0M205.5 112.7h0M205.5 138.1h0M205.5 127.7h0M205.5 128.1h0M205.5 116.8h0M205.5 134.3h0M205.5 120.6h0M205.5 137.0h0M205.5 119.5h0M205.5 137.2h0M205.5 133.4h0M205.5 112.2h0M205.5 127.0h0M205.5 129.0h0M205.5 109.0h0M205.5 126.6h0M205.5 137.7h0M205.5 123.1h0M205.5 141.1h0M205.5 119.4h0M205.5 118.7h0M205.5 135.4h0M205.5 135.9h0M205.5 128.4h0M205.5 129.9h0M205.5 139.2h0M205.5 124.7h0M205.5 149.2h0M205.5 134.1h0M205.5 133.8h0M205.5 132.6h0M205.5 127.1h0M205.5 141.5h0M205.5 124.5h0M205.5 131.7h0M205.5 136.1h0M205.5 142.8h0M205.5 141.1h0M205.5 126.6h0M205.5 139.0h0M205.5 129.4h0M205.5 120.1h0M205.5 120.3h0M205.5 115.4h0M209.4 92.6h0M209.4 124.3h0M209.4 117.4h0M209.4 120.7h0M209.4 121.9h0M209.4 123.9h0M209.4 124.9h0M209.4 126.5h0M209.4 126.5h0M209.4 119.3h0M209.4 133.5h0M209.4 112.3h0M209.4 129.7h0M209.4 119.4h0M209.4 129.5h0M209.4 131.0h0M209.4 109.5h0M209.4 131.6h0M209.4 140.7h0M209.4 135.4h0M209.4 131.6h0M209.4 108.4h0M209.4 126.7h0M209.4 119.9h0M209.4 138.1h0M209.4 125.3h0M209.4 122.3h0M209.4 111.7h0M209.4 135.2h0M209.4 123.0h0M209.4 125.8h0M209.4 138.3h0M209.4 128.8h0M209.4 131.1h0M209.4 150.5h0M209.4 123.0h0M209.4 123.6h0M209.4 132.8h0M209.4 141.3h0M209.4 114.7h0M209.4 126.2h0M209.4 119.1h0M209.4 115.4h0M209.4 133.6h0M209.4 121.0h0M209.4 130.9h0M209.4 129.2h0M209.4 129.5h0M209.4 128.7h0M209.4 118.2h0M209.4 127.5h0M209.4 130.1h0M209.4 131.3h0M209.4 125.4h0M209.4 137.1h0M209.4 133.4h0M209.4 129.1h0M209.4 134.0h0M209.4 129.8h0M209.4 134.4h0M209.4 109.8h0M209.4 116.1h0M209.4 124.4h0M209.4 129.2h0M213.4 128.3h0M213.4 116.3h0M213.4 114.0h0M213.4 127.5h0M213.4 107.5h0M213.4 135.6h0M213.4 120.7h0M213.4 136.8h0M213.4 110.1h0M213.4 130.4h0M213.4 127.9h0M213.4 118.6h0M213.4 115.4h0M213.4 137.8h0M213.4 130.6h0M213.4 140.5h0M213.4 126.0h0M213.4 128.3h0M213.4 130.6h0M213.4 133.8h0M213.4 131.0h0M213.4 134.4h0M213.4 122.3h0M213.4 113.0h0M213.4 145.6h0M213.4 128.4h0M213.4 131.3h0M213.4 122.6h0M213.4 136.3h0M213.4 128.7h0M213.4 137.1h0M213.4 120.7h0M213.4 126.4h0M213.4 128.8h0M213.4 123.8h0M213.4 129.6h0M213.4 142.0h0M213.4 121.7h0M213.4 124.6h0M213.4 128.8h0M213.4 118.0h0M213.4 115.8h0M213.4 137.6h0M213.4 134.7h0M213.4 112.7h0M213.4 113.9h0M213.4 134.3h0M213.4 138.5h0M213.4 133.3h0M213.4 132.0h0M213.4 142.3h0M213.4 127.0h0M213.4 139.4h0M213.4 138.7h0M213.4 118.6h0M213.4 133.8h0M213.4 128.0h0M213.4 121.4h0M213.4 119.6h0M213.4 130.5h0M213.4 126.9h0M213.4 135.1h0M213.4 110.8h0M213.4 121.2h0M213.4 137.7h0M217.4 134.8h0M217.4 98.5h0M217.4 131.1h0M217.4 126.8h0M217.4 138.1h0M217.4 123.6h0M217.4 124.5h0M217.4 100.3h0M217.4 125.0h0M217.4 145.8h0M217.4 132.3h0M217.4 124.9h0M217.4 137.9h0M217.4 134.2h0M217.4 129.4h0M217.4 122.7h0M217.4 127.5h0M217.4 134.4h0M217.4 118.5h0M217.4 131.1h0M217.4 130.7h0M217.4 139.0h0M217.4 133.4h0M217.4 119.8h0M217.4 141.3h0M217.4 126.6h0M217.4 119.1h0M217.4 129.5h0M217.4 123.7h0M217.4 136.5h0M217.4 113.5h0M217.4 115.5h0M217.4 123.7h0M217.4 142.6h0M217.4 135.9h0M217.4 116.7h0M217.4 109.7h0M217.4 123.1h0M217.4 114.1h0M217.4 131.7h0M217.4 127.7h0M217.4 125.9h0M217.4 121.9h0M217.4 140.5h0M217.4 117.0h0M217.4 113.4h0M217.4 136.9h0M217.4 138.8h0M217.4 122.6h0M217.4 132.2h0M217.4 148.5h0M217.4 118.3h0M217.4 124.5h0M217.4 130.5h0M217.4 105.9h0M217.4 124.6h0M217.4 133.1h0M217.4 125.0h0M217.4 135.8h0M217.4 133.2h0M217.4 122.3h0M217.4 131.2h0M221.3 114.6h0M221.3 103.6h0M221.3 142.6h0M221.3 110.7h0M221.3 124.8h0M221.3 106.9h0M221.3 133.7h0M221.3 127.0h0M221.3 137.7h0M221.3 127.9h0M221.3 119.7h0M221.3 110.8h0M221.3 130.9h0M221.3 124.5h0M221.3 128.0h0M221.3 131.6h0M221.3 135.9h0M221.3 124.0h0M221.3 141.1h0M221.3 123.5h0M221.3 124.4h0M221.3 130.9h0M221.3 134.2h0M221.3 137.8h0M221.3 106.8h0M221.3 137.4h0M221.3 109.8h0M221.3 118.9h0M221.3 128.1h0M221.3 135.6h0M221.3 114.7h0M221.3 108.1h0M221.3 133.5h0M221.3 127.4h0M221.3 114.6h0M221.3 121.4h0M221.3 105.5h0M221.3 130.0h0M221.3 119.4h0M221.3 136.5h0M221.3 104.6h0M221.3 131.6h0M221.3 145.6h0M221.3 125.8h0M221.3 125.9h0M221.3 106.3h0M221.3 127.8h0M221.3 124.7h0M221.3 118.9h0M221.3 109.5h0M221.3 125.2h0M221.3 114.7h0M221.3 119.7h0M221.3 127.4h0M221.3 123.9h0M221.3 124.3h0M221.3 133.3h0M221.3 113.0h0M221.3 137.8h0M221.3 113.4h0M221.3 115.5h0M221.3 125.5h0M221.3 131.9h0M221.3 126.8h0M221.3 120.1h0M221.3 117.5h0M221.3 121.9h0M221.3 115.1h0M221.3 129.9h0M221.3 122.4h0M221.3 139.5h0M221.3 117.3h0M221.3 123.1h0M221.3 128.6h0M221.3 113.5h0M221.3 118.0h0M221.3 151.4h0M221.3 124.2h0M221.3 138.5h0M221.3 114.4h0M221.3 100.9h0M221.3 129.5h0M221.3 123.9h0M221.3 127.0h0M221.3 121.3h0M225.3 122.8h0M225.3 136.5h0M225.3 136.7h0M225.3 116.4h0M225.3 132.2h0M225.3 130.0h0M225.3 127.7h0M225.3 123.7h0M225.3 112.3h0M225.3 135.6h0M225.3 118.8h0M225.3 117.4h0M225.3 117.9h0M225.3 118.8h0M225.3 108.7h0M225.3 118.6h0M225.3 115.0h0M225.3 117.9h0M225.3 106.1h0M225.3 141.4h0M225.3 111.0h0M225.3 125.7h0M225.3 125.9h0M225.3 132.5h0M225.3 141.1h0M225.3 126.9h0M225.3 129.8h0M225.3 118.5h0M225.3 137.3h0M225.3 109.5h0M225.3 120.6h0M225.3 125.6h0M225.3 130.0h0M225.3 130.8h0M225.3 134.1h0M225.3 128.5h0M225.3 123.2h0M225.3 124.9h0M225.3 136.8h0M225.3 125.8h0M225.3 131.8h0M225.3 121.7h0M225.3 105.4h0M225.3 117.3h0M225.3 126.2h0M225.3 138.8h0M225.3 136.8h0M225.3 139.4h0M225.3 116.3h0M225.3 130.6h0M225.3 122.6h0M225.3 129.2h0M225.3 122.4h0M225.3 109.8h0M225.3 129.8h0M225.3 126.5h0M225.3 131.0h0M225.3 114.9h0M225.3 133.1h0M225.3 134.1h0M225.3 136.5h0M225.3 136.7h0M225.3 118.7h0M225.3 98.7h0M225.3 132.8h0M225.3 114.1h0M225.3 120.8h0M225.3 133.8h0M225.3 125.9h0M225.3 125.5h0M225.3 129.9h0M225.3 104.8h0M225.3 141.5h0M225.3 119.6h0M225.3 120.1h0M225.3 128.8h0M225.3 121.8h0M225.3 114.8h0M225.3 121.8h0M225.3 119.3h0M225.3 116.6h0M225.3 142.7h0M225.3 109.1h0M225.3 101.4h0M225.3 113.9h0M225.3 113.5h0M225.3 136.7h0M225.3 124.4h0M225.3 131.0h0M225.3 128.9h0M225.3 114.0h0M225.3 130.9h0M225.3 124.5h0M225.3 141.5h0M225.3 124.8h0M229.3 127.3h0M229.3 121.7h0M229.3 125.9h0M229.3 110.4h0M229.3 101.7h0M229.3 118.7h0M229.3 128.8h0M229.3 126.0h0M229.3 111.7h0M229.3 130.6h0M229.3 107.9h0M229.3 108.3h0M229.3 121.2h0M229.3 115.7h0M229.3 114.7h0M229.3 107.0h0M229.3 132.0h0M229.3 110.5h0M229.3 125.5h0M229.3 129.3h0M229.3 120.9h0M229.3 124.0h0M229.3 131.4h0M229.3 137.2h0M229.3 130.9h0M229.3 107.9h0M229.3 103.0h0M229.3 115.6h0M229.3 110.5h0M229.3 126.9h0M229.3 122.6h0M229.3 119.2h0M229.3 132.3h0M229.3 131.4h0M229.3 121.0h0M229.3 125.0h0M229.3 132.1h0M229.3 118.2h0M229.3 124.4h0M229.3 112.1h0M229.3 121.9h0M229.3 124.8h0M229.3 120.7h0M229.3 123.5h0M229.3 128.3h0M229.3 125.8h0M229.3 114.7h0M229.3 115.7h0M229.3 109.5h0M229.3 138.2h0M229.3 125.7h0M229.3 125.9h0M229.3 120.2h0M229.3 126.2h0M229.3 126.8h0M229.3 114.4h0M229.3 120.2h0M229.3 133.1h0M229.3 109.1h0M229.3 112.3h0M229.3 127.4h0M229.3 113.9h0M229.3 129.0h0M229.3 111.1h0M229.3 124.0h0M229.3 129.6h0M229.3 125.5h0M229.3 129.2h0M229.3 120.0h0M229.3 120.2h0M229.3 121.5h0M229.3 127.2h0M229.3 157.1h0M229.3 121.0h0M229.3 140.1h0M229.3 119.5h0M229.3 111.0h0M229.3 119.3h0M229.3 125.6h0M229.3 123.6h0M229.3 123.2h0M229.3 127.2h0M229.3 127.5h0M229.3 130.8h0M229.3 110.5h0M229.3 122.0h0M229.3 112.7h0M233.2 142.2h0M233.2 108.8h0M233.2 127.0h0M233.2 128.1h0M233.2 104.5h0M233.2 123.2h0M233.2 123.3h0M233.2 106.4h0M233.2 110.0h0M233.2 115.4h0M233.2 124.4h0M233.2 97.8h0M233.2 116.8h0M233.2 115.3h0M233.2 122.2h0M233.2 134.2h0M233.2 133.4h0M233.2 116.6h0M233.2 116.8h0M233.2 122.9h0M233.2 131.8h0M233.2 134.4h0M233.2 123.7h0M233.2 134.6h0M233.2 111.9h0M233.2 109.4h0M233.2 93.3h0M233.2 112.1h0M233.2 126.3h0M233.2 128.9h0M233.2 153.8h0M233.2 126.3h0M233.2 122.2h0M233.2 111.2h0M233.2 114.6h0M233.2 114.9h0M233.2 118.5h0M233.2 114.2h0M233.2 106.6h0M233.2 130.8h0M233.2 125.0h0M233.2 133.9h0M233.2 104.9h0M233.2 108.0h0M233.2 113.3h0M233.2 132.1h0M233.2 118.9h0M233.2 122.8h0M233.2 119.8h0M233.2 122.4h0M233.2 115.5h0M233.2 124.3h0M233.2 112.3h0M233.2 118.2h0M233.2 123.4h0M233.2 121.6h0M233.2 124.8h0M233.2 112.7h0M233.2 123.2h0M233.2 117.7h0M233.2 124.3h0M233.2 134.9h0M233.2 111.8h0M233.2 130.7h0M233.2 114.0h0M233.2 116.5h0M233.2 136.5h0M233.2 129.7h0M233.2 125.5h0M233.2 128.5h0M237.2 128.5h0M237.2 100.7h0M237.2 112.3h0M237.2 126.5h0M237.2 119.4h0M237.2 113.6h0M237.2 118.8h0M237.2 123.6h0M237.2 129.7h0M237.2 117.6h0M237.2 115.8h0M237.2 121.7h0M237.2 126.6h0M237.2 113.9h0M237.2 95.2h0M237.2 122.1h0M237.2 115.9h0M237.2 115.5h0M237.2 144.0h0M237.2 118.0h0M237.2 126.0h0M237.2 105.8h0M237.2 121.6h0M237.2 126.7h0M237.2 121.3h0M237.2 117.6h0M237.2 124.6h0M237.2 119.7h0M237.2 132.3h0M237.2 121.4h0M237.2 111.7h0M237.2 100.1h0M237.2 112.3h0M237.2 116.6h0M237.2 107.7h0M237.2 109.3h0M237.2 103.1h0M237.2 108.7h0M237.2 120.3h0M237.2 116.7h0M237.2 117.5h0M237.2 116.3h0M237.2 117.2h0M237.2 126.8h0M237.2 139.6h0M237.2 125.7h0M237.2 138.8h0M237.2 118.5h0M237.2 119.1h0M237.2 135.4h0M237.2 112.5h0M237.2 110.8h0M237.2 118.3h0M237.2 103.0h0M237.2 101.1h0M237.2 130.9h0M237.2 109.2h0M237.2 114.9h0M237.2 115.1h0M237.2 110.1h0M237.2 126.2h0M237.2 124.9h0M237.2 127.2h0M237.2 126.5h0M237.2 120.1h0M237.2 133.2h0M237.2 129.3h0M237.2 113.6h0M237.2 119.9h0M237.2 115.5h0M237.2 137.5h0M237.2 126.8h0M237.2 124.6h0M237.2 118.9h0M237.2 124.9h0M237.2 110.2h0M237.2 119.8h0M237.2 119.0h0M237.2 119.1h0M237.2 112.3h0M241.2 129.3h0M241.2 98.6h0M241.2 108.0h0M241.2 108.6h0M241.2 114.2h0M241.2 109.3h0M241.2 116.7h0M241.2 105.7h0M241.2 118.1h0M241.2 138.0h0M241.2 104.8h0M241.2 116.8h0M241.2 129.2h0M241.2 119.8h0M241.2 126.4h0M241.2 97.4h0M241.2 113.0h0M241.2 133.1h0M241.2 112.5h0M241.2 121.7h0M241.2 99.2h0M241.2 128.1h0M241.2 139.7h0M241.2 117.2h0M241.2 121.2h0M241.2 121.9h0M241.2 138.7h0M241.2 113.7h0M241.2 101.6h0M241.2 136.4h0M241.2 106.5h0M241.2 123.4h0M241.2 95.0h0M241.2 113.6h0M241.2 119.7h0M241.2 107.1h0M241.2 112.7h0M241.2 123.6h0M241.2 110.9h0M241.2 122.8h0M241.2 135.2h0M241.2 98.1h0M241.2 121.2h0M241.2 123.8h0M241.2 114.5h0M241.2 133.0h0M241.2 131.0h0M241.2 122.7h0M241.2 122.9h0M241.2 117.1h0M241.2 106.9h0M241.2 122.4h0M241.2 113.0h0M241.2 112.0h0M241.2 128.4h0M241.2 115.6h0M241.2 127.0h0M241.2 107.5h0M241.2 113.4h0M241.2 117.7h0M241.2 130.9h0M241.2 116.7h0M241.2 125.3h0M241.2 111.0h0M241.2 119.0h0M241.2 125.7h0M241.2 108.8h0M241.2 110.8h0M245.2 114.7h0M245.2 129.7h0M245.2 90.6h0M245.2 120.8h0M245.2 118.1h0M245.2 101.5h0M245.2 101.8h0M245.2 119.0h0M245.2 100.8h0M245.2 116.9h0M245.2 112.8h0M245.2 107.9h0M245.2 113.6h0M245.2 92.9h0M245.2 114.1h0M245.2 128.2h0M245.2 103.7h0M245.2 120.5h0M245.2 119.5h0M245.2 145.7h0M245.2 106.7h0M245.2 108.5h0M245.2 108.7h0M245.2 106.9h0M245.2 100.0h0M245.2 116.9h0M245.2 107.3h0M245.2 123.7h0M245.2 119.9h0M245.2 106.2h0M245.2 112.7h0M245.2 129.5h0M245.2 113.0h0M245.2 118.3h0M245.2 124.5h0M245.2 112.2h0M245.2 120.4h0M245.2 131.8h0M245.2 127.3h0M245.2 99.2h0M245.2 131.3h0M245.2 114.3h0M245.2 110.5h0M245.2 110.2h0M245.2 128.4h0M245.2 119.6h0M245.2 115.1h0M245.2 108.7h0M245.2 122.8h0M245.2 127.8h0M245.2 106.7h0M245.2 105.7h0M245.2 112.9h0M245.2 122.4h0M245.2 112.5h0M245.2 115.4h0M245.2 108.3h0M245.2 128.7h0M245.2 115.3h0M245.2 118.0h0M245.2 127.3h0M245.2 114.4h0M245.2 116.1h0M245.2 120.5h0M245.2 112.6h0M245.2 130.3h0M245.2 117.0h0M245.2 112.3h0M245.2 113.7h0M245.2 106.0h0M245.2 128.2h0M245.2 131.2h0M245.2 114.2h0M245.2 112.0h0M245.2 95.8h0M245.2 110.5h0M245.2 125.0h0M245.2 108.6h0M245.2 124.7h0M245.2 131.0h0M245.2 91.0h0M245.2 113.3h0M245.2 109.5h0M245.2 111.0h0M245.2 98.8h0M245.2 113.7h0M245.2 104.6h0M245.2 126.5h0M245.2 130.1h0M245.2 102.6h0M245.2 102.1h0M245.2 111.5h0M245.2 114.3h0M249.1 122.1h0M249.1 126.5h0M249.1 92.4h0M249.1 110.2h0M249.1 107.8h0M249.1 126.6h0M249.1 110.1h0M249.1 93.7h0M249.1 120.2h0M249.1 116.4h0M249.1 106.4h0M249.1 105.8h0M249.1 109.0h0M249.1 131.0h0M249.1 110.2h0M249.1 126.7h0M249.1 123.2h0M249.1 109.8h0M249.1 118.0h0M249.1 107.2h0M249.1 84.3h0M249.1 107.5h0M249.1 108.0h0M249.1 123.9h0M249.1 121.4h0M249.1 125.6h0M249.1 120.4h0M249.1 125.8h0M249.1 121.6h0M249.1 117.2h0M249.1 124.9h0M249.1 129.0h0M249.1 128.5h0M249.1 110.7h0M249.1 114.5h0M249.1 105.1h0M249.1 104.9h0M249.1 118.5h0M249.1 108.6h0M249.1 129.2h0M249.1 92.8h0M249.1 103.4h0M249.1 117.2h0M249.1 126.5h0M249.1 111.4h0M249.1 133.5h0M249.1 122.8h0M249.1 107.8h0M249.1 114.4h0M249.1 119.9h0M249.1 105.8h0M249.1 125.3h0M249.1 112.3h0M249.1 120.0h0M249.1 123.4h0M249.1 110.6h0M249.1 124.9h0M249.1 96.5h0M249.1 120.9h0M249.1 95.6h0M249.1 125.9h0M249.1 109.2h0M249.1 126.9h0M249.1 128.3h0M249.1 113.6h0M249.1 108.5h0M249.1 127.6h0M249.1 103.5h0M249.1 122.9h0M249.1 113.8h0M249.1 111.4h0M249.1 109.3h0M249.1 132.7h0M249.1 99.3h0M249.1 109.6h0M249.1 119.3h0M249.1 125.2h0M249.1 131.7h0M249.1 128.5h0M249.1 109.8h0M249.1 118.5h0M249.1 126.2h0M249.1 120.3h0M249.1 99.8h0M253.1 128.9h0M253.1 138.6h0M253.1 135.7h0M253.1 125.3h0M253.1 118.5h0M253.1 115.9h0M253.1 110.3h0M253.1 108.4h0M253.1 111.6h0M253.1 111.6h0M253.1 123.7h0M253.1 135.0h0M253.1 118.9h0M253.1 123.2h0M253.1 120.2h0M253.1 116.5h0M253.1 126.0h0M253.1 124.7h0M253.1 114.8h0M253.1 112.6h0M253.1 120.2h0M253.1 108.9h0M253.1 115.9h0M253.1 123.8h0M253.1 113.4h0M253.1 95.3h0M253.1 120.4h0M253.1 102.3h0M253.1 100.2h0M253.1 99.0h0M253.1 121.9h0M253.1 94.0h0M253.1 112.6h0M253.1 116.3h0M253.1 116.0h0M253.1 107.9h0M253.1 113.3h0M253.1 115.5h0M253.1 101.2h0M253.1 120.9h0M253.1 124.0h0M253.1 106.0h0M253.1 106.9h0M253.1 103.0h0M253.1 124.3h0M253.1 103.1h0M253.1 109.0h0M253.1 96.4h0M253.1 126.1h0M253.1 111.6h0M253.1 116.5h0M253.1 129.4h0M253.1 120.8h0M253.1 102.7h0M253.1 118.4h0M253.1 120.9h0M253.1 105.2h0M253.1 104.1h0M253.1 104.1h0M253.1 121.5h0M253.1 114.4h0M253.1 103.6h0M253.1 120.2h0M253.1 121.2h0M253.1 105.6h0M253.1 98.4h0M253.1 125.1h0M253.1 139.3h0M253.1 128.0h0M253.1 123.7h0M253.1 115.1h0M253.1 107.7h0M253.1 115.2h0M253.1 120.7h0M253.1 112.3h0M253.1 123.2h0M253.1 114.2h0M253.1 120.1h0M253.1 87.4h0M253.1 105.7h0M253.1 122.0h0M253.1 123.6h0M253.1 118.1h0M253.1 130.0h0M253.1 121.0h0M253.1 121.0h0M253.1 105.1h0M253.1 118.0h0M257.1 107.5h0M257.1 140.5h0M257.1 114.4h0M257.1 102.0h0M257.1 109.9h0M257.1 112.5h0M257.1 132.3h0M257.1 125.2h0M257.1 105.1h0M257.1 98.6h0M257.1 110.4h0M257.1 104.9h0M257.1 116.5h0M257.1 116.1h0M257.1 119.0h0M257.1 102.8h0M257.1 109.0h0M257.1 114.7h0M257.1 115.7h0M257.1 106.9h0M257.1 109.2h0M257.1 120.6h0M257.1 95.5h0M257.1 109.9h0M257.1 112.3h0M257.1 97.8h0M257.1 102.3h0M257.1 113.3h0M257.1 107.1h0M257.1 123.0h0M257.1 118.8h0M257.1 134.7h0M257.1 100.4h0M257.1 131.2h0M257.1 105.7h0M257.1 120.6h0M257.1 122.1h0M257.1 114.4h0M257.1 109.8h0M257.1 106.4h0M257.1 94.9h0M257.1 108.9h0M257.1 103.7h0M257.1 118.3h0M257.1 105.4h0M257.1 110.9h0M257.1 117.0h0M257.1 113.4h0M257.1 113.0h0M257.1 110.5h0M257.1 108.5h0M257.1 117.5h0M257.1 119.7h0M257.1 105.0h0M257.1 129.2h0M257.1 118.5h0M257.1 97.1h0M257.1 139.2h0M257.1 119.3h0M257.1 105.6h0M257.1 128.7h0M257.1 86.8h0M257.1 138.0h0M257.1 98.2h0M257.1 97.0h0M257.1 103.4h0M257.1 114.6h0M257.1 108.9h0M257.1 121.3h0M257.1 104.4h0M257.1 123.5h0M257.1 115.1h0M257.1 102.6h0M257.1 123.4h0M257.1 116.0h0M257.1 110.8h0M257.1 125.7h0M257.1 100.9h0M261.0 140.8h0M261.0 107.3h0M261.0 118.1h0M261.0 101.5h0M261.0 118.1h0M261.0 101.3h0M261.0 111.5h0M261.0 102.6h0M261.0 116.4h0M261.0 116.1h0M261.0 122.5h0M261.0 105.3h0M261.0 101.8h0M261.0 90.1h0M261.0 98.3h0M261.0 108.6h0M261.0 113.2h0M261.0 107.2h0M261.0 111.3h0M261.0 96.6h0M261.0 101.7h0M261.0 119.4h0M261.0 117.9h0M261.0 97.5h0M261.0 108.0h0M261.0 113.4h0M261.0 99.3h0M261.0 114.9h0M261.0 113.8h0M261.0 115.6h0M261.0 130.5h0M261.0 102.5h0M261.0 123.1h0M261.0 116.7h0M261.0 118.4h0M261.0 103.9h0M261.0 111.8h0M261.0 110.9h0M261.0 127.7h0M261.0 111.9h0M261.0 125.7h0M261.0 108.0h0M261.0 107.4h0M261.0 111.2h0M261.0 90.8h0M261.0 105.8h0M261.0 105.2h0M261.0 109.7h0M261.0 113.0h0M261.0 101.5h0M261.0 100.2h0M261.0 124.0h0M261.0 100.6h0M261.0 106.0h0M261.0 101.6h0M261.0 106.5h0M261.0 123.4h0M261.0 122.7h0M261.0 93.0h0M261.0 108.6h0M261.0 125.1h0M261.0 107.6h0M261.0 114.7h0M261.0 129.3h0M261.0 133.8h0M265.0 103.0h0M265.0 129.7h0M265.0 103.7h0M265.0 130.6h0M265.0 112.7h0M265.0 118.0h0M265.0 122.0h0M265.0 115.2h0M265.0 110.9h0M265.0 112.4h0M265.0 124.2h0M265.0 114.5h0M265.0 89.7h0M265.0 120.2h0M265.0 126.5h0M265.0 107.0h0M265.0 103.8h0M265.0 105.1h0M265.0 120.9h0M265.0 99.8h0M265.0 117.5h0M265.0 121.0h0M265.0 115.8h0M265.0 110.8h0M265.0 102.6h0M265.0 103.5h0M265.0 109.9h0M265.0 100.4h0M265.0 108.9h0M265.0 100.8h0M265.0 123.7h0M265.0 125.4h0M265.0 102.0h0M265.0 123.6h0M265.0 112.7h0M265.0 110.7h0M265.0 114.6h0M265.0 114.2h0M265.0 95.9h0M265.0 134.9h0M265.0 100.9h0M265.0 86.9h0M265.0 109.5h0M265.0 109.9h0M265.0 102.5h0M265.0 91.5h0M265.0 121.5h0M265.0 108.8h0M265.0 111.6h0M265.0 104.2h0M265.0 108.1h0M265.0 103.2h0M265.0 113.9h0M265.0 109.2h0M265.0 116.4h0M265.0 116.3h0M265.0 111.1h0M265.0 111.1h0M265.0 121.4h0M265.0 94.1h0M265.0 111.1h0M265.0 123.5h0M265.0 98.8h0M265.0 117.2h0M265.0 104.7h0M265.0 109.9h0M265.0 107.2h0M265.0 108.0h0M265.0 115.4h0M265.0 109.3h0M265.0 89.5h0M265.0 132.0h0M265.0 109.1h0M269.0 64.9h0M269.0 123.1h0M269.0 87.6h0M269.0 103.0h0M269.0 107.6h0M269.0 103.6h0M269.0 102.0h0M269.0 96.6h0M269.0 104.0h0M269.0 106.9h0M269.0 106.6h0M269.0 94.9h0M269.0 100.2h0M269.0 118.4h0M269.0 114.7h0M269.0 105.1h0M269.0 114.6h0M269.0 112.1h0M269.0 117.9h0M269.0 111.0h0M269.0 104.1h0M269.0 98.4h0M269.0 108.3h0M269.0 87.6h0M269.0 109.1h0M269.0 76.5h0M269.0 98.4h0M269.0 103.4h0M269.0 113.4h0M269.0 136.6h0M269.0 109.9h0M269.0 106.6h0M269.0 89.2h0M269.0 122.2h0M269.0 89.3h0M269.0 110.9h0M269.0 101.1h0M269.0 133.7h0M269.0 107.0h0M269.0 111.8h0M269.0 101.6h0M269.0 107.5h0M269.0 119.8h0M269.0 98.9h0M269.0 101.4h0M269.0 102.4h0M269.0 98.3h0M269.0 97.4h0M269.0 108.6h0M269.0 121.9h0M269.0 122.2h0M269.0 94.9h0M269.0 101.3h0M269.0 107.4h0M269.0 112.7h0M269.0 108.1h0M269.0 108.1h0M269.0 111.7h0M269.0 115.4h0M269.0 86.7h0M269.0 106.1h0M269.0 114.4h0M269.0 121.4h0M269.0 115.6h0M269.0 101.2h0M269.0 100.8h0M269.0 110.6h0M269.0 107.9h0M269.0 111.4h0M269.0 119.4h0M269.0 95.4h0M269.0 104.6h0M272.9 109.7h0M272.9 123.5h0M272.9 114.3h0M272.9 116.5h0M272.9 106.0h0M272.9 103.6h0M272.9 108.0h0M272.9 97.0h0M272.9 97.1h0M272.9 103.8h0M272.9 106.7h0M272.9 109.6h0M272.9 101.5h0M272.9 97.8h0M272.9 106.4h0M272.9 102.5h0M272.9 110.3h0M272.9 121.2h0M272.9 117.1h0M272.9 99.3h0M272.9 102.5h0M272.9 91.1h0M272.9 106.5h0M272.9 98.3h0M272.9 93.8h0M272.9 97.0h0M272.9 113.1h0M272.9 108.9h0M272.9 105.7h0M272.9 116.9h0M272.9 102.3h0M272.9 96.7h0M272.9 111.8h0M272.9 87.2h0M272.9 109.9h0M272.9 109.1h0M272.9 109.4h0M272.9 114.1h0M272.9 102.8h0M272.9 106.8h0M272.9 90.4h0M272.9 100.9h0M272.9 101.6h0M272.9 109.2h0M272.9 121.2h0M272.9 107.9h0M272.9 115.5h0M272.9 97.5h0M272.9 107.3h0M272.9 90.3h0M272.9 99.6h0M272.9 98.6h0M272.9 104.7h0M272.9 104.9h0M272.9 100.5h0M272.9 97.8h0M272.9 114.1h0M272.9 102.1h0M272.9 80.7h0M272.9 107.9h0M272.9 109.6h0M272.9 114.0h0M272.9 121.5h0M272.9 95.1h0M272.9 106.4h0M272.9 104.0h0M272.9 88.5h0M272.9 81.9h0M272.9 115.9h0M272.9 96.4h0M272.9 100.8h0M272.9 103.0h0M272.9 102.2h0M272.9 107.2h0M272.9 91.1h0M272.9 100.8h0M272.9 103.5h0M272.9 94.5h0M272.9 98.0h0M272.9 102.4h0M272.9 103.7h0M272.9 89.4h0M272.9 101.9h0M276.9 119.4h0M276.9 114.5h0M276.9 97.1h0M276.9 105.5h0M276.9 99.1h0M276.9 104.0h0M276.9 115.2h0M276.9 92.9h0M276.9 112.6h0M276.9 118.0h0M276.9 116.5h0M276.9 105.8h0M276.9 95.7h0M276.9 93.9h0M276.9 103.5h0M276.9 117.7h0M276.9 112.3h0M276.9 114.7h0M276.9 107.4h0M276.9 123.5h0M276.9 104.5h0M276.9 99.2h0M276.9 107.2h0M276.9 101.0h0M276.9 115.1h0M276.9 120.3h0M276.9 112.1h0M276.9 94.0h0M276.9 95.3h0M276.9 110.3h0M276.9 93.5h0M276.9 108.9h0M276.9 90.4h0M276.9 100.8h0M276.9 110.2h0M276.9 97.7h0M276.9 113.5h0M276.9 115.1h0M276.9 120.3h0M276.9 103.1h0M276.9 106.2h0M276.9 106.4h0M276.9 109.8h0M276.9 91.2h0M276.9 109.9h0M276.9 112.9h0M276.9 93.1h0M276.9 91.4h0M276.9 102.3h0M276.9 123.2h0M276.9 111.7h0M276.9 99.5h0M276.9 105.5h0M276.9 90.0h0M276.9 119.4h0M276.9 98.8h0M276.9 112.0h0M276.9 92.3h0M276.9 106.4h0M276.9 95.3h0M276.9 112.2h0M276.9 119.9h0M276.9 116.8h0M276.9 111.8h0M276.9 116.0h0M276.9 93.6h0M276.9 92.2h0M276.9 102.9h0M276.9 116.1h0M276.9 106.9h0M276.9 112.6h0M276.9 91.0h0M276.9 102.5h0M276.9 100.7h0M276.9 109.7h0M276.9 125.9h0M276.9 113.4h0M276.9 116.9h0M276.9 101.9h0M276.9 104.7h0M276.9 113.7h0M276.9 109.6h0M276.9 89.9h0M276.9 115.3h0M276.9 114.9h0M276.9 108.0h0M280.9 88.3h0M280.9 112.0h0M280.9 105.3h0M280.9 105.2h0M280.9 106.2h0M280.9 107.8h0M280.9 94.2h0M280.9 109.0h0M280.9 105.6h0M280.9 104.3h0M280.9 103.2h0M280.9 106.0h0M280.9 94.2h0M280.9 104.4h0M280.9 102.6h0M280.9 104.8h0M280.9 114.4h0M280.9 112.7h0M280.9 114.9h0M280.9 102.4h0M280.9 111.5h0M280.9 115.0h0M280.9 101.9h0M280.9 99.0h0M280.9 122.1h0M280.9 87.2h0M280.9 104.0h0M280.9 105.4h0M280.9 93.5h0M280.9 103.6h0M280.9 110.4h0M280.9 82.1h0M280.9 115.2h0M280.9 105.3h0M280.9 95.8h0M280.9 115.1h0M280.9 105.3h0M280.9 100.4h0M280.9 80.0h0M280.9 113.3h0M280.9 104.8h0M280.9 97.7h0M280.9 103.5h0M280.9 116.5h0M280.9 100.2h0M280.9 103.2h0M280.9 99.8h0M280.9 92.9h0M280.9 94.1h0M280.9 100.2h0M280.9 101.2h0M280.9 115.4h0M280.9 105.7h0M280.9 102.1h0M280.9 108.4h0M280.9 103.3h0M280.9 112.7h0M280.9 88.8h0M280.9 82.6h0M280.9 108.2h0M280.9 100.3h0M280.9 106.7h0M280.9 91.6h0M280.9 99.9h0M280.9 103.5h0M280.9 106.6h0M280.9 103.0h0M280.9 114.4h0M280.9 97.5h0M280.9 111.5h0M280.9 98.9h0M280.9 103.0h0M280.9 93.2h0M280.9 104.5h0M280.9 94.0h0M280.9 113.6h0M280.9 98.2h0M280.9 106.6h0M280.9 102.4h0M280.9 103.6h0M280.9 94.9h0M280.9 124.7h0M280.9 101.0h0M280.9 119.4h0M280.9 92.1h0M280.9 124.2h0M280.9 114.5h0M280.9 121.2h0M280.9 87.7h0M280.9 117.3h0M280.9 103.2h0M280.9 109.7h0M280.9 122.5h0M280.9 107.7h0M280.9 97.6h0M280.9 106.2h0M284.9 87.4h0M284.9 97.5h0M284.9 115.6h0M284.9 101.0h0M284.9 109.2h0M284.9 110.6h0M284.9 88.1h0M284.9 114.2h0M284.9 112.2h0M284.9 103.9h0M284.9 107.3h0M284.9 83.1h0M284.9 127.0h0M284.9 99.3h0M284.9 95.7h0M284.9 114.3h0M284.9 109.5h0M284.9 98.6h0M284.9 86.4h0M284.9 112.3h0M284.9 119.0h0M284.9 93.1h0M284.9 87.5h0M284.9 106.4h0M284.9 125.4h0M284.9 88.2h0M284.9 105.0h0M284.9 91.6h0M284.9 103.4h0M284.9 106.8h0M284.9 107.5h0M284.9 88.0h0M284.9 88.4h0M284.9 124.6h0M284.9 112.5h0M284.9 84.9h0M284.9 106.7h0M284.9 116.8h0M284.9 102.9h0M284.9 104.1h0M284.9 103.9h0M284.9 107.8h0M284.9 106.1h0M284.9 107.6h0M284.9 99.6h0M284.9 111.2h0M284.9 105.9h0M284.9 104.4h0M284.9 89.7h0M284.9 99.2h0M284.9 104.1h0M284.9 97.5h0M284.9 98.8h0M284.9 91.9h0M284.9 97.8h0M284.9 84.8h0M284.9 89.3h0M284.9 103.4h0M284.9 107.2h0M284.9 94.0h0M284.9 97.7h0M284.9 103.9h0M284.9 117.9h0M284.9 121.5h0M284.9 99.4h0M284.9 95.1h0M284.9 94.8h0M284.9 116.0h0M284.9 92.4h0M284.9 108.4h0M284.9 99.0h0M284.9 98.7h0M284.9 111.1h0M284.9 109.0h0M284.9 124.0h0M284.9 112.3h0M284.9 121.2h0M284.9 98.5h0M284.9 102.3h0M288.8 120.0h0M288.8 84.3h0M288.8 141.2h0M288.8 111.7h0M288.8 101.6h0M288.8 101.0h0M288.8 104.7h0M288.8 92.5h0M288.8 84.2h0M288.8 105.4h0M288.8 105.2h0M288.8 124.5h0M288.8 102.9h0M288.8 106.0h0M288.8 123.6h0M288.8 98.7h0M288.8 95.6h0M288.8 109.1h0M288.8 105.4h0M288.8 111.4h0M288.8 93.8h0M288.8 117.1h0M288.8 104.8h0M288.8 81.7h0M288.8 101.1h0M288.8 96.8h0M288.8 103.1h0M288.8 113.6h0M288.8 101.9h0M288.8 97.5h0M288.8 112.0h0M288.8 98.1h0M288.8 88.9h0M288.8 90.7h0M288.8 117.7h0M288.8 111.5h0M288.8 118.0h0M288.8 90.7h0M288.8 95.4h0M288.8 94.4h0M288.8 110.6h0M288.8 113.5h0M288.8 100.8h0M288.8 100.6h0M288.8 110.3h0M288.8 100.2h0M288.8 95.0h0M288.8 99.3h0M288.8 112.2h0M288.8 123.1h0M288.8 104.2h0M288.8 99.9h0M288.8 104.3h0M288.8 106.0h0M288.8 108.6h0M288.8 94.3h0M288.8 102.1h0M288.8 100.4h0M288.8 111.5h0M288.8 107.9h0M288.8 99.9h0M288.8 111.8h0M288.8 114.4h0M288.8 105.0h0M288.8 89.4h0M288.8 99.7h0M288.8 86.7h0M288.8 102.9h0M288.8 104.8h0M288.8 115.8h0M288.8 107.5h0M288.8 87.0h0M288.8 98.3h0M288.8 94.1h0M288.8 94.4h0M288.8 101.7h0M288.8 103.7h0M288.8 100.4h0M288.8 94.8h0M288.8 96.9h0M288.8 96.6h0M288.8 100.0h0M288.8 109.4h0M288.8 104.3h0M292.8 127.7h0M292.8 72.7h0M292.8 106.5h0M292.8 100.4h0M292.8 87.1h0M292.8 101.9h0M292.8 94.0h0M292.8 99.2h0M292.8 104.1h0M292.8 68.1h0M292.8 99.5h0M292.8 105.7h0M292.8 105.3h0M292.8 96.4h0M292.8 96.1h0M292.8 92.4h0M292.8 98.8h0M292.8 114.9h0M292.8 94.8h0M292.8 103.4h0M292.8 103.2h0M292.8 115.4h0M292.8 106.1h0M292.8 107.7h0M292.8 100.6h0M292.8 115.1h0M292.8 99.7h0M292.8 99.0h0M292.8 111.7h0M292.8 106.6h0M292.8 109.0h0M292.8 91.0h0M292.8 126.1h0M292.8 103.8h0M292.8 117.2h0M292.8 104.7h0M292.8 91.6h0M292.8 106.7h0M292.8 98.8h0M292.8 108.9h0M292.8 80.4h0M292.8 90.9h0M292.8 88.7h0M292.8 113.8h0M292.8 111.5h0M292.8 89.2h0M292.8 102.2h0M292.8 102.9h0M292.8 96.8h0M292.8 113.1h0M292.8 92.4h0M292.8 100.1h0M292.8 95.4h0M292.8 107.1h0M292.8 95.0h0M292.8 107.5h0M292.8 90.5h0M292.8 88.7h0M292.8 90.9h0M292.8 95.0h0M292.8 93.8h0M292.8 127.9h0M292.8 91.7h0M292.8 103.1h0M292.8 99.3h0M292.8 103.2h0M292.8 114.5h0M292.8 105.8h0M292.8 93.5h0M292.8 85.8h0M292.8 106.6h0M292.8 109.5h0M292.8 85.4h0M292.8 109.3h0M292.8 79.1h0M292.8 99.7h0M292.8 109.3h0M292.8 90.2h0M292.8 82.9h0M296.8 79.0h0M296.8 106.9h0M296.8 119.6h0M296.8 89.4h0M296.8 77.4h0M296.8 81.2h0M296.8 91.8h0M296.8 101.3h0M296.8 104.2h0M296.8 101.9h0M296.8 107.4h0M296.8 101.7h0M296.8 125.0h0M296.8 97.1h0M296.8 99.2h0M296.8 72.6h0M296.8 91.1h0M296.8 103.8h0M296.8 93.1h0M296.8 111.5h0M296.8 105.1h0M296.8 118.1h0M296.8 84.2h0M296.8 92.8h0M296.8 111.0h0M296.8 99.5h0M296.8 89.2h0M296.8 93.8h0M296.8 95.0h0M296.8 107.7h0M296.8 105.4h0M296.8 97.9h0M296.8 89.5h0M296.8 107.4h0M296.8 110.4h0M296.8 87.2h0M296.8 108.4h0M296.8 87.9h0M296.8 96.4h0M296.8 89.9h0M296.8 81.0h0M296.8 91.8h0M296.8 90.9h0M296.8 108.3h0M296.8 106.0h0M296.8 92.3h0M296.8 83.2h0M296.8 84.6h0M296.8 75.1h0M296.8 95.7h0M296.8 96.8h0M296.8 88.6h0M296.8 98.7h0M296.8 99.5h0M296.8 109.6h0M296.8 88.7h0M296.8 109.9h0M296.8 93.6h0M296.8 113.5h0M296.8 87.7h0M296.8 109.5h0M296.8 90.3h0M296.8 115.2h0M296.8 103.4h0M296.8 86.8h0M296.8 107.2h0M296.8 98.2h0M296.8 103.8h0M296.8 122.6h0M296.8 95.7h0M296.8 94.5h0M296.8 110.3h0M296.8 93.0h0M296.8 107.1h0M296.8 109.2h0M296.8 98.8h0M296.8 105.9h0M296.8 75.4h0M296.8 114.9h0M296.8 91.3h0M296.8 88.8h0M296.8 119.2h0M296.8 116.7h0M296.8 93.1h0M296.8 103.8h0M296.8 95.0h0M300.7 94.7h0M300.7 83.5h0M300.7 94.3h0M300.7 95.2h0M300.7 111.8h0M300.7 79.8h0M300.7 86.4h0M300.7 88.8h0M300.7 109.7h0M300.7 101.7h0M300.7 103.2h0M300.7 101.8h0M300.7 109.1h0M300.7 93.1h0M300.7 95.2h0M300.7 93.8h0M300.7 102.8h0M300.7 84.3h0M300.7 95.6h0M300.7 125.7h0M300.7 104.1h0M300.7 98.1h0M300.7 87.6h0M300.7 100.6h0M300.7 100.1h0M300.7 104.4h0M300.7 90.7h0M300.7 102.2h0M300.7 103.8h0M300.7 105.2h0M300.7 91.8h0M300.7 103.0h0M300.7 114.8h0M300.7 91.1h0M300.7 104.8h0M300.7 93.9h0M300.7 93.7h0M300.7 85.2h0M300.7 86.8h0M300.7 103.5h0M300.7 99.3h0M300.7 110.8h0M300.7 80.3h0M300.7 93.0h0M300.7 83.2h0M300.7 100.8h0M300.7 118.7h0M300.7 81.8h0M300.7 96.6h0M300.7 96.2h0M300.7 97.0h0M300.7 90.9h0M300.7 92.1h0M300.7 113.9h0M300.7 86.4h0M300.7 103.0h0M300.7 102.4h0M300.7 79.8h0M300.7 88.1h0M300.7 101.0h0M300.7 116.7h0M300.7 95.9h0M300.7 92.0h0M300.7 98.4h0M300.7 110.4h0M300.7 105.7h0M300.7 110.5h0M304.7 85.6h0M304.7 103.8h0M304.7 93.8h0M304.7 90.5h0M304.7 101.5h0M304.7 97.7h0M304.7 74.2h0M304.7 94.1h0M304.7 87.1h0M304.7 100.7h0M304.7 95.8h0M304.7 113.9h0M304.7 96.5h0M304.7 83.9h0M304.7 74.5h0M304.7 83.8h0M304.7 89.1h0M304.7 95.7h0M304.7 102.4h0M304.7 97.9h0M304.7 89.9h0M304.7 104.3h0M308.7 85.2h0M308.7 105.1h0M308.7 113.3h0M312.6 104.0h0M312.6 110.8h0M312.6 107.8h0M276.9 60.2h0M328.5 95.3h0M336.5 106.8h0M62.5 206.1h0M229.3 183.6h0" stroke="#000" stroke-width="2.2" stroke-linecap="round" fill="none"/>
<path d="M58.6 181.1L336.5 86.5" stroke="#4167BD" stroke-width="1.5" stroke-linecap="round" fill="none"/>
<text x="40.8" y="33.9" text-anchor="end" font-size="11.3" fill="#111" stroke="#111" stroke-width="0.2">1.00</text>
<text x="40.8" y="102.5" text-anchor="end" font-size="11.3" fill="#111" stroke="#111" stroke-width="0.2">0.75</text>
<text x="40.8" y="171.1" text-anchor="end" font-size="11.3" fill="#111" stroke="#111" stroke-width="0.2">0.50</text>
<text x="40.8" y="239.6" text-anchor="end" font-size="11.3" fill="#111" stroke="#111" stroke-width="0.2">0.25</text>
<text x="40.8" y="308.2" text-anchor="end" font-size="11.3" fill="#111" stroke="#111" stroke-width="0.2">0.00</text>
<text x="106.2" y="333.8" text-anchor="middle" font-size="11.6" fill="#111" stroke="#111" stroke-width="0.2">30</text>
<text x="185.6" y="333.8" text-anchor="middle" font-size="11.6" fill="#111" stroke="#111" stroke-width="0.2">50</text>
<text x="265.0" y="333.8" text-anchor="middle" font-size="11.6" fill="#111" stroke="#111" stroke-width="0.2">70</text>
<text x="344.4" y="333.8" text-anchor="middle" font-size="11.6" fill="#111" stroke="#111" stroke-width="0.2">90</text>
<path d="M42.4 30H44.5M42.4 98.6H44.5M42.4 167.2H44.5M42.4 235.7H44.5M42.4 304.3H44.5M106.2 317.7V320.4M185.6 317.7V320.4M265 317.7V320.4M344.4 317.7V320.4" stroke="#333" stroke-width="1" fill="none"/>
<text x="197.7" y="352.6" text-anchor="middle" font-size="11.8" fill="#000" stroke="#000" stroke-width="0.15" textLength="59.6" lengthAdjust="spacingAndGlyphs">Age (years)</text>
<text transform="translate(8.8,167.1) rotate(-90)" x="0" y="0" text-anchor="middle" font-size="11.8" fill="#000" stroke="#000" stroke-width="0.15" textLength="175.2" lengthAdjust="spacingAndGlyphs">DNA methylation in whole blood</text>
<text x="24.4" y="14.9" font-size="17.5" font-weight="bold" fill="#000">a</text>
<rect x="416.0" y="16.7" width="89.0" height="13.3" fill="#D9D9D9"/>
<rect x="416.0" y="30.0" width="89.0" height="58.7" fill="#EBEBEB"/>
<path d="M430.4 30.0V88.7M451.7 30.0V88.7M473.1 30.0V88.7M494.5 30.0V88.7M416.0 80.3H505.0M416.0 66.1H505.0M416.0 51.9H505.0M416.0 37.7H505.0" stroke="#fff" stroke-width="0.9" fill="none"/>
<path d="M419.7 30.0V88.7M441.1 30.0V88.7M462.4 30.0V88.7M483.8 30.0V88.7M416.0 87.4H505.0M416.0 73.2H505.0M416.0 59H505.0M416.0 44.8H505.0M416.0 30.6H505.0" stroke="#fff" stroke-width="1.1" fill="none"/>
<path d="M430.5 85.5h0M446.7 84.1h0M457.2 77.6h0M457.5 78.9h0M458.1 78.3h0M461.4 78.5h0M464.6 79.4h0M464.6 81.1h0M463.8 78.9h0M476.7 80.2h0M478.1 79.4h0M479.8 81.6h0M477.4 81.2h0M485.3 78.5h0M487.1 81.2h0M490.6 77.6h0M490.6 80.2h0M489.5 78.9h0M498.4 80.2h0M500.2 81.2h0M501.1 80.2h0M499.4 79.4h0" stroke="#000" stroke-width="1.8" stroke-linecap="round" fill="none"/>
<path d="M430.7 82.4L500.5 80.0" stroke="#E8891C" stroke-width="1.9" fill="none"/>
<text x="460.5" y="26.0" text-anchor="middle" font-size="9" fill="#111" stroke="#111" stroke-width="0.22" textLength="73.5" lengthAdjust="spacingAndGlyphs">Brain (Cerebellum)</text>
<rect x="509.3" y="16.7" width="89.0" height="13.3" fill="#D9D9D9"/>
<rect x="509.3" y="30.0" width="89.0" height="58.7" fill="#EBEBEB"/>
<path d="M523.6 30.0V88.7M545 30.0V88.7M566.4 30.0V88.7M587.7 30.0V88.7M509.3 80.3H598.3M509.3 66.1H598.3M509.3 51.9H598.3M509.3 37.7H598.3" stroke="#fff" stroke-width="0.9" fill="none"/>
<path d="M513 30.0V88.7M534.3 30.0V88.7M555.7 30.0V88.7M577.1 30.0V88.7M509.3 87.4H598.3M509.3 73.2H598.3M509.3 59H598.3M509.3 44.8H598.3M509.3 30.6H598.3" stroke="#fff" stroke-width="1.1" fill="none"/>
<path d="M528.8 61.0h0M526.2 68.6h0M552.2 62.0h0M532.8 64.2h0M529.0 66.0h0M545.4 58.9h0M546.9 61.0h0M552.6 55.4h0M540.7 57.9h0M535.1 60.9h0M535.3 63.5h0M531.9 62.2h0M544.8 58.8h0M554.0 61.6h0M528.3 63.9h0M537.3 60.5h0M536.3 61.9h0M528.2 61.2h0M543.6 58.1h0M555.2 60.9h0M534.1 62.7h0M547.5 62.0h0M552.7 58.0h0M533.9 65.0h0M553.3 57.2h0M548.2 59.2h0M545.1 58.3h0M531.6 64.0h0M534.1 66.3h0M528.8 60.5h0M552.6 59.7h0M550.0 56.6h0M528.4 63.7h0M541.7 59.7h0M532.2 59.3h0M548.7 59.2h0M542.9 57.8h0M554.1 62.5h0M547.5 58.2h0M528.8 65.1h0M536.9 62.5h0M543.0 60.9h0M553.1 58.5h0M536.9 58.5h0M531.4 67.9h0M534.3 62.8h0M533.2 64.8h0M530.4 61.4h0M536.1 63.4h0M533.2 62.1h0M541.1 62.2h0M552.5 57.8h0M554.3 56.8h0M530.6 64.9h0M542.8 60.9h0M545.9 63.6h0M530.3 63.3h0M541.7 59.3h0M531.8 64.9h0M536.7 59.7h0M535.5 67.3h0M550.2 63.9h0M532.8 66.5h0M541.9 62.2h0M543.3 60.8h0M535.7 62.7h0M553.6 59.4h0M535.7 60.9h0M535.5 63.6h0M546.5 63.2h0M540.4 64.3h0M547.5 55.3h0M530.4 69.4h0M530.2 64.5h0M547.8 56.8h0M537.4 61.0h0M551.4 61.4h0M532.8 63.3h0M533.0 61.3h0M551.6 56.8h0M536.6 64.3h0M529.1 62.7h0M532.4 62.8h0M548.8 57.4h0M533.7 59.9h0M542.4 61.8h0M550.7 62.9h0M544.0 59.8h0M548.3 56.0h0M555.0 57.5h0M534.7 62.3h0M552.0 54.0h0M542.3 63.4h0M531.8 61.5h0M529.7 65.5h0M535.6 62.4h0M529.9 64.0h0M548.9 56.5h0M542.5 63.2h0M527.1 66.4h0M552.1 63.1h0M543.6 59.7h0M539.0 62.8h0M530.0 63.2h0M539.8 64.0h0M553.2 60.1h0M543.3 58.5h0M539.5 62.0h0M544.0 59.3h0M542.2 59.9h0M544.4 61.5h0M531.7 67.2h0M530.2 61.8h0M526.2 65.2h0M550.7 57.4h0M525.9 70.3h0M533.4 66.9h0M543.3 65.8h0M540.7 63.4h0M552.7 57.0h0M532.2 62.2h0M529.2 64.5h0M530.6 63.7h0M540.7 59.7h0M534.5 63.5h0M539.4 60.8h0M546.4 60.0h0M535.4 67.6h0M545.7 61.3h0M526.4 62.4h0M542.1 62.0h0M552.9 59.6h0M553.7 60.6h0M542.9 62.1h0M555.2 56.4h0M532.8 63.9h0M534.7 65.1h0M539.2 68.8h0M541.0 62.6h0M550.3 64.2h0M539.2 65.9h0M527.2 63.3h0M546.7 58.7h0M532.4 67.8h0M552.2 57.5h0M532.1 62.5h0M534.6 64.6h0M529.9 62.5h0M534.8 66.4h0M543.8 63.5h0M533.8 66.3h0M527.2 67.7h0M543.3 58.9h0M547.8 63.1h0M529.0 67.1h0M538.5 64.0h0M527.8 64.5h0M526.3 66.3h0M537.0 60.3h0M534.4 64.5h0M552.0 62.4h0M526.2 66.7h0M545.1 60.5h0M547.7 62.2h0M538.3 61.3h0M540.8 57.3h0M533.2 64.5h0M533.3 63.1h0M527.4 62.0h0M552.9 60.8h0M526.6 67.3h0M529.9 66.7h0M547.4 59.3h0M539.5 60.5h0M541.1 61.7h0M534.6 62.8h0M530.6 61.1h0M549.7 57.9h0M529.5 67.6h0M534.6 62.9h0M548.3 59.8h0M534.7 61.2h0M554.2 59.7h0M531.0 65.3h0M541.6 62.3h0M541.9 65.3h0M540.8 61.5h0M548.9 61.3h0M527.2 64.2h0M542.1 63.5h0M549.4 60.9h0M527.3 67.4h0M542.1 63.6h0M539.0 60.2h0M537.9 63.1h0M541.9 60.2h0M544.5 63.3h0M546.8 60.1h0M552.6 63.3h0M545.4 61.7h0M555.7 60.2h0M545.7 59.2h0M533.8 62.7h0M530.2 64.6h0M527.9 63.1h0M533.8 62.7h0M529.3 63.2h0M546.2 58.7h0M546.4 60.6h0M544.1 61.5h0M537.2 61.5h0M539.7 62.7h0M533.5 62.3h0M553.3 56.8h0M526.3 63.7h0M535.4 63.6h0M542.9 64.0h0M531.2 64.0h0M551.3 59.9h0M540.2 59.1h0M536.9 63.2h0M527.7 65.6h0M534.2 61.4h0M543.4 62.1h0M534.2 63.4h0M527.1 61.4h0M543.1 57.6h0M534.9 61.4h0M551.1 59.1h0M546.5 62.6h0M547.4 59.0h0M552.4 59.4h0M550.0 59.3h0M535.6 63.8h0M542.8 61.1h0M533.5 63.6h0M531.8 63.0h0M531.9 60.4h0M529.1 63.7h0M532.9 67.1h0M532.5 65.7h0M545.9 64.1h0M533.3 65.1h0M527.2 64.0h0M538.4 61.1h0M531.8 65.1h0M546.4 59.8h0M532.4 65.2h0M542.4 64.4h0M531.0 67.1h0M534.8 64.2h0M569.0 60.6h0M549.7 63.3h0M548.9 59.0h0M529.6 62.9h0M552.9 58.6h0M538.3 61.4h0M547.4 61.6h0M539.3 60.9h0M521.7 71.5h0M566.0 57.8h0M555.7 55.5h0M570.5 54.2h0M534.3 64.1h0M532.9 64.2h0M524.8 63.0h0M534.2 58.7h0M535.3 66.3h0M527.5 66.2h0M531.9 63.1h0M533.6 60.3h0M564.9 59.9h0M542.0 59.7h0M562.8 58.9h0M520.0 63.4h0M527.7 64.0h0M570.2 57.7h0M520.0 69.9h0M521.1 65.8h0M546.0 58.9h0M533.3 65.8h0M528.0 64.4h0M551.0 62.9h0M551.1 61.5h0M527.7 68.2h0M547.2 63.5h0M542.5 62.8h0M564.3 60.3h0M521.0 67.1h0M530.2 62.3h0M548.6 60.6h0M519.1 72.5h0M564.2 56.1h0M571.0 62.1h0M535.5 67.3h0M560.3 56.7h0M531.1 62.3h0M569.9 55.0h0M529.0 65.1h0M517.6 74.3h0M521.0 69.6h0M542.7 59.7h0M519.4 71.4h0M571.7 58.9h0M552.3 62.8h0M548.8 62.8h0M552.0 57.5h0M540.5 60.5h0M566.4 60.5h0M556.8 61.5h0M541.1 62.8h0M533.0 62.0h0M525.3 68.9h0M534.7 63.3h0M536.9 67.5h0M521.7 71.0h0M568.6 56.5h0M531.6 61.6h0M547.2 63.1h0M520.9 70.3h0M547.9 58.3h0M553.1 60.3h0M521.7 69.3h0M571.4 56.0h0M526.3 65.2h0M531.8 61.0h0M558.1 56.8h0M535.9 64.0h0M565.9 58.1h0M530.5 64.3h0M534.7 66.1h0M555.7 61.4h0M565.0 55.6h0M566.3 61.5h0M533.2 60.9h0M546.7 59.7h0M540.1 62.0h0M554.8 57.9h0M529.9 63.2h0M563.8 55.1h0M556.9 59.8h0M527.0 65.9h0M534.7 63.5h0M535.9 58.1h0M568.9 55.2h0M542.6 63.3h0M551.5 60.4h0M568.9 59.2h0M539.3 61.8h0M569.8 56.9h0M533.5 57.7h0M517.9 75.3h0M522.9 64.8h0M555.7 58.0h0M538.4 63.7h0M563.5 58.4h0M546.8 61.5h0M555.3 58.9h0M536.8 59.9h0M549.9 63.5h0M556.0 55.8h0M538.2 62.9h0M544.5 57.2h0M564.1 57.0h0M568.8 54.5h0M536.7 61.0h0M521.0 65.8h0M564.0 57.8h0M542.1 63.2h0M571.1 55.6h0M559.6 56.8h0M537.7 57.1h0M564.5 62.7h0M547.7 60.7h0M556.9 56.3h0M566.4 60.7h0M549.5 60.5h0M569.9 52.3h0M539.4 58.4h0M538.3 64.1h0M552.8 56.0h0M539.7 58.8h0M556.5 57.0h0M546.7 59.4h0M558.5 58.1h0M563.1 60.2h0M548.8 61.2h0M568.0 55.8h0M560.6 58.0h0M564.8 53.5h0M518.3 71.3h0M518.1 76.5h0M552.5 60.2h0M535.7 61.9h0M565.7 56.9h0M539.0 61.7h0M558.6 60.6h0M530.9 60.4h0M552.2 61.1h0M567.3 55.9h0M565.1 58.5h0M537.6 65.0h0M544.0 57.4h0M547.0 66.3h0M536.4 64.5h0M544.1 59.8h0M570.8 58.1h0M566.1 55.9h0M534.7 63.1h0M555.2 60.1h0M569.9 52.2h0M537.4 62.7h0M564.4 58.3h0M561.5 60.8h0M566.5 59.5h0M521.9 66.2h0M568.5 56.1h0M571.7 57.1h0M530.6 65.7h0M552.4 57.8h0M522.2 71.6h0M550.7 60.5h0M556.6 59.4h0M558.6 60.6h0M564.8 57.5h0M533.5 64.7h0M523.7 68.7h0M562.6 53.8h0M518.7 68.4h0M530.2 61.3h0M530.4 63.9h0M560.3 56.1h0M541.8 59.3h0M563.8 55.1h0M554.3 53.5h0M564.1 58.5h0M560.9 57.7h0M566.1 57.8h0M532.6 71.8h0M537.0 65.6h0M552.1 59.4h0M549.6 58.3h0M560.4 59.7h0M562.1 55.4h0M534.2 59.9h0M524.0 67.6h0M558.4 55.2h0M555.4 54.8h0M532.6 62.3h0M520.4 71.1h0M518.5 66.8h0M531.0 64.2h0M532.4 64.3h0M528.8 64.3h0M520.0 70.3h0M526.7 62.8h0M536.7 60.4h0M522.4 64.5h0M528.7 63.2h0M541.6 63.1h0M564.3 58.2h0M565.6 55.6h0M539.7 62.6h0M524.2 59.5h0M532.2 64.1h0M554.7 60.5h0M539.9 58.8h0M548.9 58.1h0M558.2 58.7h0M553.8 59.7h0M565.0 56.8h0M522.0 65.7h0M533.7 61.2h0M519.1 70.4h0M546.2 59.3h0M551.4 57.5h0M531.3 61.9h0M520.3 76.1h0M543.0 63.1h0M526.6 67.3h0M528.0 65.4h0M538.4 61.5h0M569.7 55.1h0M537.2 60.7h0M556.6 59.1h0M537.9 61.9h0M539.7 57.4h0M525.0 67.5h0M527.5 64.3h0M560.0 54.6h0M541.1 60.5h0M533.1 68.1h0M572.1 56.2h0M566.0 58.6h0M531.9 63.8h0M541.4 58.8h0M548.7 58.8h0M526.5 66.1h0M541.0 59.2h0M533.0 62.2h0M562.2 57.8h0M522.5 66.7h0M572.3 56.4h0M530.3 64.9h0M535.6 63.6h0M521.4 67.9h0M567.9 59.7h0M563.2 61.0h0M521.0 65.2h0M546.6 60.9h0M538.9 61.8h0M550.9 59.9h0M535.9 62.4h0M570.3 57.2h0M529.3 64.2h0M562.8 60.0h0M532.1 61.3h0M553.3 60.9h0M541.0 58.9h0M546.4 64.9h0M546.2 62.9h0M552.0 57.1h0M521.0 68.6h0M520.5 70.2h0M571.2 56.2h0M531.3 66.2h0M537.1 62.0h0M530.6 69.3h0M553.1 60.4h0M571.9 58.6h0M539.6 60.3h0M535.1 60.6h0M536.7 64.3h0M518.7 66.2h0M522.2 68.9h0M519.9 74.0h0M535.2 68.3h0M571.9 53.4h0M525.1 66.3h0M547.7 61.6h0M528.7 66.4h0M519.3 72.2h0M563.7 54.7h0M524.3 66.6h0M524.7 61.9h0M562.6 58.5h0M530.8 69.5h0M528.3 62.7h0M569.6 58.2h0M528.0 65.4h0M563.4 54.2h0M534.3 63.5h0M548.7 57.2h0M534.5 62.8h0M536.1 64.2h0M569.0 56.1h0M567.7 58.9h0M527.0 62.3h0M557.5 56.4h0M525.0 65.9h0M533.9 61.5h0M521.2 66.8h0M553.2 59.9h0M557.6 56.5h0M558.7 59.1h0M560.2 56.9h0M539.2 64.0h0M527.1 65.0h0M517.5 70.3h0M541.7 63.1h0M569.1 58.3h0M542.2 62.4h0M551.4 57.8h0M568.2 59.2h0M565.1 56.7h0M558.3 54.9h0M550.1 58.9h0M530.1 68.0h0M558.8 58.2h0M540.4 59.0h0M513.2 83.9h0M514.1 73.1h0M513.8 76.6h0M513.3 78.2h0M514.4 78.7h0M513.7 76.5h0M513.1 81.0h0M514.5 77.5h0M513.7 72.8h0M513.2 79.8h0M513.5 80.1h0M513.5 79.3h0M513.1 79.5h0M513.6 76.3h0M513.3 79.0h0M513.4 77.0h0M514.2 73.3h0M513.3 83.8h0M513.1 83.3h0M513.3 82.8h0M513.5 79.2h0M513.3 76.9h0M514.1 75.8h0M514.5 78.8h0M514.5 77.1h0M513.8 75.6h0M514.4 77.9h0M514.4 76.7h0M514.1 76.5h0M514.4 81.1h0M513.7 76.8h0M514.3 75.8h0M513.9 76.5h0M514.3 79.2h0M514.3 78.7h0M578.5 55.6h0M581.7 57.9h0M562.8 46.5h0M555.7 48.2h0M552.8 72.9h0M554.6 68.3h0M541.5 51.6h0" stroke="#000" stroke-width="1.8" stroke-linecap="round" fill="none"/>
<path d="M513.0 75.1L581.7 46.8" stroke="#CC9A06" stroke-width="1.9" fill="none"/>
<text x="553.8" y="26.0" text-anchor="middle" font-size="9" fill="#111" stroke="#111" stroke-width="0.22">Brain (DLPFC)</text>
<rect x="602.5" y="16.7" width="89.0" height="13.3" fill="#D9D9D9"/>
<rect x="602.5" y="30.0" width="89.0" height="58.7" fill="#EBEBEB"/>
<path d="M616.9 30.0V88.7M638.3 30.0V88.7M659.6 30.0V88.7M681 30.0V88.7M602.5 80.3H691.5M602.5 66.1H691.5M602.5 51.9H691.5M602.5 37.7H691.5" stroke="#fff" stroke-width="0.9" fill="none"/>
<path d="M606.2 30.0V88.7M627.6 30.0V88.7M649 30.0V88.7M670.3 30.0V88.7M602.5 87.4H691.5M602.5 73.2H691.5M602.5 59H691.5M602.5 44.8H691.5M602.5 30.6H691.5" stroke="#fff" stroke-width="1.1" fill="none"/>
<path d="M616.9 74.9h0M629.3 70.9h0M633.1 67.8h0M635.6 61.3h0M638.3 51.3h0M632.4 64.7h0M644.0 59.0h0M644.0 63.0h0M647.8 53.3h0M648.3 65.5h0M650.9 65.5h0M650.9 55.9h0M652.2 60.1h0M657.9 60.4h0M663.5 44.8h0M665.3 45.4h0M667.0 47.6h0M663.5 54.2h0M664.4 55.9h0M667.0 59.0h0M672.2 58.1h0M674.7 57.9h0M677.4 49.9h0M677.4 55.0h0M677.4 58.1h0M685.1 45.4h0M685.1 56.7h0M686.9 53.3h0M686.0 55.0h0M634.7 64.1h0" stroke="#000" stroke-width="1.8" stroke-linecap="round" fill="none"/>
<path d="M617.1 67.3L686.9 50.7" stroke="#B8A800" stroke-width="1.9" fill="none"/>
<text x="647.0" y="26.0" text-anchor="middle" font-size="9" fill="#111" stroke="#111" stroke-width="0.22">Brain (Frontal)</text>
<rect x="695.8" y="16.7" width="89.0" height="13.3" fill="#D9D9D9"/>
<rect x="695.8" y="30.0" width="89.0" height="58.7" fill="#EBEBEB"/>
<path d="M710.2 30.0V88.7M731.5 30.0V88.7M752.9 30.0V88.7M774.3 30.0V88.7M695.8 80.3H784.8M695.8 66.1H784.8M695.8 51.9H784.8M695.8 37.7H784.8" stroke="#fff" stroke-width="0.9" fill="none"/>
<path d="M699.5 30.0V88.7M720.9 30.0V88.7M742.2 30.0V88.7M763.6 30.0V88.7M695.8 87.4H784.8M695.8 73.2H784.8M695.8 59H784.8M695.8 44.8H784.8M695.8 30.6H784.8" stroke="#fff" stroke-width="1.1" fill="none"/>
<path d="M726.7 67.0h0M737.5 62.1h0M737.5 58.1h0M741.2 59.0h0M741.9 55.0h0M744.5 47.6h0M745.4 53.0h0M745.9 62.1h0M756.6 48.8h0M757.7 56.4h0M757.2 60.7h0M760.2 47.6h0M765.9 49.1h0M767.9 50.8h0M770.5 43.1h0M770.5 52.2h0M778.4 43.4h0M779.8 48.2h0M780.6 53.0h0M756.8 49.3h0M770.6 44.2h0" stroke="#000" stroke-width="1.8" stroke-linecap="round" fill="none"/>
<path d="M726.7 62.1L780.6 45.9" stroke="#80B522" stroke-width="1.9" fill="none"/>
<text x="740.3" y="26.0" text-anchor="middle" font-size="9" fill="#111" stroke="#111" stroke-width="0.22">Brain (Hippocampus)</text>
<rect x="416.0" y="93.0" width="89.0" height="13.3" fill="#D9D9D9"/>
<rect x="416.0" y="106.3" width="89.0" height="58.7" fill="#EBEBEB"/>
<path d="M430.4 106.3V165.0M451.7 106.3V165.0M473.1 106.3V165.0M494.5 106.3V165.0M416.0 156.6H505.0M416.0 142.4H505.0M416.0 128.2H505.0M416.0 114H505.0" stroke="#fff" stroke-width="0.9" fill="none"/>
<path d="M419.7 106.3V165.0M441.1 106.3V165.0M462.4 106.3V165.0M483.8 106.3V165.0M416.0 163.7H505.0M416.0 149.5H505.0M416.0 135.3H505.0M416.0 121.1H505.0M416.0 106.9H505.0" stroke="#fff" stroke-width="1.1" fill="none"/>
<path d="M430.6 153.7h0M446.7 145.8h0M457.4 143.6h0M460.7 136.2h0M461.9 140.7h0M464.1 137.3h0M465.2 135.3h0M464.7 134.2h0M476.0 133.9h0M476.9 137.3h0M478.7 136.2h0M479.9 138.4h0M477.4 135.3h0M485.4 132.8h0M487.7 131.7h0M489.9 135.3h0M491.0 138.4h0M488.8 133.6h0M498.9 141.3h0M498.9 133.9h0M501.2 134.6h0M490.2 137.0h0" stroke="#000" stroke-width="1.8" stroke-linecap="round" fill="none"/>
<path d="M430.6 145.2L501.2 133.3" stroke="#53B630" stroke-width="1.9" fill="none"/>
<text x="460.5" y="102.3" text-anchor="middle" font-size="9" fill="#111" stroke="#111" stroke-width="0.22">Brain (Occipital)</text>
<rect x="509.3" y="93.0" width="89.0" height="13.3" fill="#D9D9D9"/>
<rect x="509.3" y="106.3" width="89.0" height="58.7" fill="#EBEBEB"/>
<path d="M523.6 106.3V165.0M545 106.3V165.0M566.4 106.3V165.0M587.7 106.3V165.0M509.3 156.6H598.3M509.3 142.4H598.3M509.3 128.2H598.3M509.3 114H598.3" stroke="#fff" stroke-width="0.9" fill="none"/>
<path d="M513 106.3V165.0M534.3 106.3V165.0M555.7 106.3V165.0M577.1 106.3V165.0M509.3 163.7H598.3M509.3 149.5H598.3M509.3 135.3H598.3M509.3 121.1H598.3M509.3 106.9H598.3" stroke="#fff" stroke-width="1.1" fill="none"/>
<path d="M535.6 141.5h0M535.6 150.6h0M538.2 145.9h0M539.1 146.8h0M541.7 138.1h0M541.7 139.8h0M542.6 145.9h0M544.9 134.2h0M544.9 139.0h0M550.4 144.2h0M550.4 145.9h0M557.3 137.2h0M557.8 138.9h0M558.3 132.8h0M558.3 144.2h0M564.3 131.6h0M564.8 133.7h0M571.2 131.9h0M572.1 134.6h0M557.1 138.1h0" stroke="#000" stroke-width="1.8" stroke-linecap="round" fill="none"/>
<path d="M535.6 145.4L572.1 132.5" stroke="#2EB04F" stroke-width="1.9" fill="none"/>
<text x="553.8" y="102.3" text-anchor="middle" font-size="9" fill="#111" stroke="#111" stroke-width="0.22">Brain (Parietal)</text>
<rect x="602.5" y="93.0" width="89.0" height="13.3" fill="#D9D9D9"/>
<rect x="602.5" y="106.3" width="89.0" height="58.7" fill="#EBEBEB"/>
<path d="M616.9 106.3V165.0M638.3 106.3V165.0M659.6 106.3V165.0M681 106.3V165.0M602.5 156.6H691.5M602.5 142.4H691.5M602.5 128.2H691.5M602.5 114H691.5" stroke="#fff" stroke-width="0.9" fill="none"/>
<path d="M606.2 106.3V165.0M627.6 106.3V165.0M649 106.3V165.0M670.3 106.3V165.0M602.5 163.7H691.5M602.5 149.5H691.5M602.5 135.3H691.5M602.5 121.1H691.5M602.5 106.9H691.5" stroke="#fff" stroke-width="1.1" fill="none"/>
<path d="M617.1 155.0h0M633.4 141.5h0M644.0 141.0h0M647.3 132.5h0M647.8 136.4h0M648.7 139.8h0M650.9 137.9h0M651.8 135.3h0M652.2 138.9h0M663.5 129.8h0M664.3 131.9h0M673.0 131.0h0M674.7 132.7h0M677.4 125.0h0M677.4 126.8h0M677.9 132.1h0M685.1 123.9h0M686.0 129.6h0M686.0 130.8h0M687.8 125.9h0" stroke="#000" stroke-width="1.8" stroke-linecap="round" fill="none"/>
<path d="M617.1 148.9L687.8 125.6" stroke="#28B57E" stroke-width="1.9" fill="none"/>
<text x="647.0" y="102.3" text-anchor="middle" font-size="9" fill="#111" stroke="#111" stroke-width="0.22">Brain (Temporal)</text>
<rect x="695.8" y="93.0" width="89.0" height="13.3" fill="#D9D9D9"/>
<rect x="695.8" y="106.3" width="89.0" height="58.7" fill="#EBEBEB"/>
<path d="M710.2 106.3V165.0M731.5 106.3V165.0M752.9 106.3V165.0M774.3 106.3V165.0M695.8 156.6H784.8M695.8 142.4H784.8M695.8 128.2H784.8M695.8 114H784.8" stroke="#fff" stroke-width="0.9" fill="none"/>
<path d="M699.5 106.3V165.0M720.9 106.3V165.0M742.2 106.3V165.0M763.6 106.3V165.0M695.8 163.7H784.8M695.8 149.5H784.8M695.8 135.3H784.8M695.8 121.1H784.8M695.8 106.9H784.8" stroke="#fff" stroke-width="1.1" fill="none"/>
<path d="M702.0 143.6h0M700.8 149.3h0M708.1 138.5h0M705.4 140.6h0M706.8 139.3h0M718.7 125.5h0M716.2 125.2h0M713.9 128.0h0M705.1 139.4h0M714.7 129.4h0M713.7 125.6h0M710.5 130.2h0M705.0 142.0h0M704.4 142.1h0M708.4 134.1h0M705.7 142.0h0M717.3 124.8h0M709.3 135.6h0M713.3 132.2h0M717.5 125.9h0M712.2 135.6h0M703.5 144.2h0M706.5 143.7h0M718.0 119.6h0M701.3 142.2h0M704.6 138.7h0M712.2 131.4h0M716.7 124.2h0M716.0 124.4h0M714.3 127.1h0M713.8 128.0h0M707.5 139.9h0M701.6 144.3h0M712.5 132.9h0M701.8 147.7h0M715.6 130.4h0M702.9 142.7h0M700.9 143.8h0M719.4 126.1h0M703.6 138.8h0M711.5 129.6h0M701.6 146.2h0M719.1 124.5h0M700.8 146.5h0M713.5 128.2h0M716.5 127.6h0M706.1 142.2h0M700.6 145.8h0M701.1 150.6h0M701.6 145.0h0M714.8 126.2h0M710.5 133.5h0M717.5 123.7h0M712.5 130.6h0M711.7 131.0h0M704.3 141.6h0M704.7 143.3h0M719.0 124.0h0M718.5 124.3h0M708.8 133.5h0M715.5 124.2h0M714.1 128.7h0M705.7 141.9h0M704.2 143.7h0M714.7 129.4h0M718.7 120.7h0M719.1 122.6h0M707.2 138.4h0M701.7 147.0h0M706.5 137.2h0M701.8 144.5h0M719.2 123.4h0M706.3 139.2h0M716.5 122.8h0M705.1 141.3h0M718.7 120.1h0M709.7 132.3h0M716.3 126.8h0M711.8 130.5h0M715.0 128.8h0M710.5 129.9h0M707.9 131.9h0M710.8 131.8h0M703.7 139.7h0M703.1 141.0h0M703.9 140.8h0M707.1 135.9h0M706.5 139.2h0M711.9 128.1h0M712.3 125.5h0M704.3 135.5h0M710.8 128.4h0M707.8 137.2h0M710.9 127.7h0M706.5 138.3h0M710.2 132.1h0M703.1 136.7h0M707.4 137.9h0M706.1 135.2h0M705.4 137.4h0M705.9 137.8h0M706.9 138.1h0M707.7 134.2h0M707.9 135.9h0M709.9 130.0h0M710.7 128.6h0M712.0 132.9h0M709.3 134.3h0M705.4 138.7h0M708.4 136.9h0M707.1 138.4h0M705.2 138.0h0M706.1 137.5h0M705.2 142.0h0M708.1 135.9h0M703.7 139.0h0M708.1 137.4h0M706.9 138.3h0M703.1 137.2h0M705.6 134.7h0M712.1 133.4h0M708.4 137.3h0M703.7 139.3h0M708.4 136.9h0M709.6 133.3h0M704.3 140.4h0M706.8 135.0h0M705.0 144.2h0M708.1 139.6h0M710.7 134.2h0M705.3 135.8h0M704.4 139.7h0M704.4 143.2h0M708.8 132.7h0M703.7 138.5h0M707.9 135.4h0M710.6 132.3h0M710.2 131.1h0M709.3 130.4h0M703.2 140.4h0M700.8 152.9h0M701.1 154.6h0M700.6 151.2h0M701.3 152.3h0M718.7 122.8h0M719.4 125.1h0M718.4 127.3h0" stroke="#000" stroke-width="1.8" stroke-linecap="round" fill="none"/>
<path d="M700.4 147.6L719.9 123.3" stroke="#25B5A8" stroke-width="1.9" fill="none"/>
<text x="740.3" y="102.3" text-anchor="middle" font-size="9" fill="#111" stroke="#111" stroke-width="0.22">Buccal</text>
<rect x="416.0" y="169.3" width="89.0" height="13.3" fill="#D9D9D9"/>
<rect x="416.0" y="182.6" width="89.0" height="58.7" fill="#EBEBEB"/>
<path d="M430.4 182.6V241.3M451.7 182.6V241.3M473.1 182.6V241.3M494.5 182.6V241.3M416.0 232.9H505.0M416.0 218.7H505.0M416.0 204.5H505.0M416.0 190.3H505.0" stroke="#fff" stroke-width="0.9" fill="none"/>
<path d="M419.7 182.6V241.3M441.1 182.6V241.3M462.4 182.6V241.3M483.8 182.6V241.3M416.0 240H505.0M416.0 225.8H505.0M416.0 211.6H505.0M416.0 197.4H505.0M416.0 183.2H505.0" stroke="#fff" stroke-width="1.1" fill="none"/>
<path d="M440.6 217.0h0M433.3 222.7h0M440.8 214.7h0M433.9 215.1h0M440.8 216.2h0M433.5 214.3h0M437.8 216.2h0M443.1 210.4h0M436.7 215.7h0M444.3 217.4h0M438.6 217.9h0M435.3 221.5h0M443.9 219.4h0M435.0 216.4h0M440.0 213.2h0M444.0 208.9h0M443.9 214.6h0M439.6 216.5h0M435.6 220.1h0M438.9 213.2h0M436.6 215.6h0M436.8 218.3h0M436.8 214.7h0M435.5 215.4h0M433.7 222.9h0M441.8 213.0h0M433.4 217.3h0M439.8 216.9h0M437.4 217.6h0M440.6 210.5h0M470.6 205.0h0M470.0 208.2h0M469.6 203.9h0M468.6 208.1h0M466.6 209.6h0M465.6 205.0h0M466.6 207.9h0M472.0 204.7h0M471.1 207.2h0M469.3 211.9h0M469.6 205.4h0M470.6 209.5h0M471.1 203.8h0M467.0 211.0h0M471.0 210.5h0M469.9 205.9h0M467.2 206.4h0M467.3 207.1h0M480.7 204.4h0M479.7 205.3h0M480.9 202.4h0M479.8 209.1h0M479.9 201.5h0M479.0 201.7h0M483.6 202.9h0M479.3 207.7h0M479.7 203.6h0M480.4 204.9h0M478.8 202.3h0M479.4 204.0h0M433.9 226.4h0M480.9 199.1h0" stroke="#000" stroke-width="1.8" stroke-linecap="round" fill="none"/>
<path d="M433.9 217.5L483.8 202.4" stroke="#22B0D5" stroke-width="1.9" fill="none"/>
<text x="460.5" y="178.6" text-anchor="middle" font-size="9" fill="#111" stroke="#111" stroke-width="0.22">Skin (Dermis)</text>
<rect x="509.3" y="169.3" width="89.0" height="13.3" fill="#D9D9D9"/>
<rect x="509.3" y="182.6" width="89.0" height="58.7" fill="#EBEBEB"/>
<path d="M523.6 182.6V241.3M545 182.6V241.3M566.4 182.6V241.3M587.7 182.6V241.3M509.3 232.9H598.3M509.3 218.7H598.3M509.3 204.5H598.3M509.3 190.3H598.3" stroke="#fff" stroke-width="0.9" fill="none"/>
<path d="M513 182.6V241.3M534.3 182.6V241.3M555.7 182.6V241.3M577.1 182.6V241.3M509.3 240H598.3M509.3 225.8H598.3M509.3 211.6H598.3M509.3 197.4H598.3M509.3 183.2H598.3" stroke="#fff" stroke-width="1.1" fill="none"/>
<path d="M532.7 203.4h0M530.5 197.3h0M528.9 197.5h0M536.4 199.1h0M529.0 200.5h0M535.5 209.6h0M536.2 201.1h0M537.5 192.7h0M527.8 207.8h0M528.3 203.4h0M527.5 200.8h0M530.1 199.0h0M536.8 193.4h0M533.8 205.9h0M528.3 201.4h0M527.7 198.8h0M535.0 204.0h0M533.6 200.1h0M526.5 195.6h0M533.2 195.6h0M528.7 199.6h0M529.8 210.0h0M527.6 202.2h0M537.8 197.4h0M565.3 188.6h0M561.2 185.6h0M562.0 186.4h0M561.5 190.7h0M559.1 189.0h0M560.5 192.6h0M565.4 193.1h0M565.5 187.9h0M560.2 190.3h0M565.4 188.1h0M558.4 191.6h0M563.8 189.0h0M558.5 192.8h0M561.6 189.3h0M561.5 188.4h0M561.6 190.7h0M565.6 187.3h0M561.0 195.2h0M577.2 185.8h0M575.7 186.4h0M573.6 191.0h0M573.8 186.7h0M571.4 192.6h0M572.8 184.5h0M576.1 187.0h0M574.3 190.9h0M576.5 183.8h0M575.4 184.6h0" stroke="#000" stroke-width="1.8" stroke-linecap="round" fill="none"/>
<path d="M526.9 201.9L576.8 187.2" stroke="#1EA5E5" stroke-width="1.9" fill="none"/>
<text x="553.8" y="178.6" text-anchor="middle" font-size="9" fill="#111" stroke="#111" stroke-width="0.22">Skin (Epidermis)</text>
<rect x="602.5" y="169.3" width="89.0" height="13.3" fill="#D9D9D9"/>
<rect x="602.5" y="182.6" width="89.0" height="58.7" fill="#EBEBEB"/>
<path d="M616.9 182.6V241.3M638.3 182.6V241.3M659.6 182.6V241.3M681 182.6V241.3M602.5 232.9H691.5M602.5 218.7H691.5M602.5 204.5H691.5M602.5 190.3H691.5" stroke="#fff" stroke-width="0.9" fill="none"/>
<path d="M606.2 182.6V241.3M627.6 182.6V241.3M649 182.6V241.3M670.3 182.6V241.3M602.5 240H691.5M602.5 225.8H691.5M602.5 211.6H691.5M602.5 197.4H691.5M602.5 183.2H691.5" stroke="#fff" stroke-width="1.1" fill="none"/>
<path d="M656.4 205.4h0M646.5 206.2h0M646.0 204.5h0M644.7 206.4h0M646.2 206.7h0M639.7 205.6h0M655.6 205.0h0M657.8 201.1h0M647.4 206.4h0M657.0 202.6h0M641.6 207.6h0M657.2 202.7h0M660.3 202.1h0M652.0 205.9h0M660.0 203.1h0M653.6 203.3h0M652.7 204.5h0M646.6 208.1h0M635.3 210.8h0M637.1 210.2h0M656.3 203.3h0M638.6 208.3h0M652.5 204.2h0M638.0 209.9h0M654.4 203.8h0M659.8 204.5h0M650.6 209.9h0M634.7 209.9h0M653.9 206.8h0M646.7 207.8h0M657.4 205.0h0M637.7 207.8h0M641.3 209.8h0M658.8 202.0h0M656.6 204.0h0M658.6 204.7h0M647.9 208.5h0M652.1 203.7h0M659.2 201.7h0M651.7 203.3h0M636.0 206.3h0M637.9 208.4h0M633.7 209.6h0M636.7 209.4h0M634.4 209.7h0M644.2 207.5h0M650.6 206.5h0M657.3 199.6h0M644.9 209.9h0M638.1 208.4h0M658.6 201.9h0M658.8 202.3h0M660.4 203.7h0M634.3 210.3h0M649.8 206.0h0M650.9 206.8h0M648.3 205.8h0M638.8 209.3h0M658.9 203.5h0M648.4 204.5h0M634.7 211.6h0M643.1 206.5h0M653.6 205.2h0M639.2 207.7h0M654.9 203.6h0M639.4 208.0h0M645.5 208.2h0M641.7 209.1h0M637.2 210.6h0M657.9 202.6h0M643.0 206.1h0M654.3 202.1h0M658.1 203.6h0M641.4 207.7h0M633.8 212.9h0M648.0 209.6h0M640.1 209.7h0M657.6 204.1h0M638.2 211.4h0M653.4 207.2h0M634.4 209.0h0M641.1 209.3h0M639.0 211.4h0M657.0 199.2h0M650.1 204.9h0M651.7 205.3h0M635.9 208.3h0M642.1 208.9h0M658.1 200.1h0M650.5 207.7h0M654.4 206.1h0M647.4 206.3h0M639.3 209.8h0M658.7 200.2h0M640.9 210.7h0M638.3 210.0h0M651.4 204.4h0M636.0 208.5h0M654.6 202.2h0M653.2 203.7h0M644.2 203.3h0M647.8 206.7h0M647.0 205.9h0M635.7 208.1h0M635.8 210.1h0M643.3 207.8h0M633.8 210.9h0M638.7 209.8h0M643.7 209.1h0M650.8 206.0h0M647.8 208.6h0M638.4 208.1h0M654.5 206.6h0M655.4 200.1h0M651.8 201.9h0M652.5 202.7h0M640.6 208.5h0M656.6 204.3h0M649.7 203.3h0M638.5 208.5h0M652.4 203.6h0M650.9 206.3h0M649.2 203.7h0M646.6 207.7h0M654.7 203.7h0M653.7 207.1h0M649.8 206.5h0M635.5 208.8h0M640.0 209.1h0M660.5 202.9h0M644.7 205.6h0M651.0 205.1h0M637.3 207.0h0M649.3 209.6h0M650.3 204.2h0M654.5 203.1h0M660.2 204.9h0M646.2 208.7h0M642.2 206.2h0M638.0 210.7h0M642.8 208.6h0M645.8 205.6h0M660.1 202.8h0M647.7 205.2h0M652.2 206.1h0M653.8 203.7h0M634.0 208.3h0M640.0 207.8h0M648.5 209.5h0M635.2 208.7h0M637.8 208.9h0M654.3 205.6h0M652.1 202.3h0M637.5 212.1h0M636.9 206.1h0M656.8 204.3h0M646.6 203.7h0M642.3 207.7h0M653.4 206.6h0M652.0 204.6h0M660.9 201.5h0M636.5 208.5h0M654.7 202.1h0M646.3 208.0h0M640.5 207.4h0M647.3 204.9h0M634.2 210.5h0M637.1 210.8h0M636.6 211.0h0M652.6 203.3h0M653.1 203.0h0M640.3 209.6h0M642.1 210.0h0M654.8 201.8h0M644.3 209.7h0M643.2 207.1h0M659.6 203.8h0M648.6 208.7h0M648.4 205.6h0M650.4 205.5h0M634.8 207.5h0M644.6 203.1h0M655.3 204.0h0M651.5 203.1h0M658.1 201.1h0M642.2 208.6h0M646.7 207.8h0M640.1 205.6h0M638.7 209.3h0M636.1 209.5h0M639.1 209.1h0M638.1 209.1h0M645.7 207.6h0M644.9 205.6h0M654.6 201.8h0M655.0 204.4h0M648.5 208.1h0M651.7 204.7h0M646.5 208.9h0M642.2 208.8h0M647.5 204.0h0M650.9 201.1h0M659.8 201.7h0M656.0 205.3h0M635.5 208.4h0M651.2 208.8h0M636.1 210.7h0M650.7 202.5h0M656.9 202.0h0M652.8 206.8h0M636.9 212.1h0M645.3 205.3h0M639.0 208.7h0M651.8 205.8h0M653.1 203.7h0M653.9 205.1h0M643.4 210.6h0M650.0 203.9h0M639.4 209.6h0M659.1 204.3h0M659.4 204.8h0M634.5 209.6h0M649.1 207.0h0M653.3 203.3h0M640.0 208.8h0M634.6 208.1h0M633.7 210.9h0M653.0 205.5h0M634.0 213.5h0M644.2 208.9h0M655.5 202.4h0M635.1 204.6h0M653.0 206.5h0M645.5 208.4h0M644.3 206.5h0M646.9 205.4h0M643.3 208.5h0M657.3 203.0h0M652.0 207.4h0M644.3 207.5h0M636.9 207.7h0M647.5 203.3h0M661.0 202.3h0M658.1 203.3h0M635.5 208.9h0M643.4 205.4h0M646.5 205.5h0M644.8 208.2h0M636.7 208.7h0M638.8 207.1h0M648.3 207.0h0M653.4 206.6h0M653.3 203.5h0M652.1 204.1h0M652.1 203.0h0M633.9 210.0h0M639.6 209.5h0M642.9 208.2h0M640.7 209.9h0M644.3 208.6h0M644.6 207.9h0M643.0 208.3h0M633.9 208.3h0M657.4 205.2h0M659.9 202.4h0M650.5 206.2h0M641.1 205.5h0M646.0 206.1h0M658.7 203.3h0M650.1 203.9h0M652.8 204.4h0M652.8 205.3h0M660.5 199.5h0M651.6 203.6h0M636.6 206.4h0M647.5 204.1h0M658.9 201.3h0M637.2 208.9h0M635.1 211.6h0M635.0 208.6h0M635.6 209.5h0M638.1 207.7h0M654.8 203.9h0M650.1 206.4h0M653.7 205.9h0M648.9 204.4h0M643.4 205.1h0M655.2 204.2h0M638.3 208.1h0M643.5 204.9h0M645.0 208.2h0M652.3 205.2h0M654.5 205.8h0M649.2 203.5h0M650.3 204.8h0M641.4 208.7h0M649.9 208.1h0M656.8 203.6h0M645.7 204.9h0M654.3 204.5h0M647.6 206.7h0M647.7 204.9h0M650.3 207.3h0M637.5 209.0h0M639.6 207.4h0M638.5 210.1h0M648.3 207.2h0M652.0 204.3h0M653.0 204.5h0M639.4 208.9h0M642.8 207.1h0M637.6 208.6h0M651.6 206.4h0M645.2 207.9h0M641.1 207.2h0M639.8 206.5h0M659.7 200.1h0M646.9 207.7h0M660.8 200.2h0M642.5 206.3h0M639.6 208.5h0M653.3 203.5h0M658.7 201.3h0M638.1 205.8h0M657.3 204.9h0M649.8 204.3h0M658.4 203.0h0M659.6 202.7h0M645.4 204.7h0M659.4 201.0h0M638.6 210.4h0M645.8 207.0h0M645.8 206.2h0M640.4 210.6h0M646.9 204.7h0M654.3 204.1h0M636.6 209.0h0M646.8 205.7h0M648.1 202.8h0M639.0 208.5h0M651.3 205.5h0M640.6 205.2h0M649.3 206.3h0M649.3 206.4h0M654.2 206.4h0M659.3 200.7h0M659.0 202.1h0M647.4 205.3h0M640.9 207.8h0M640.3 208.4h0M655.2 205.0h0M654.5 205.2h0M655.4 202.9h0M656.5 203.1h0M649.1 202.8h0M658.3 204.1h0M651.7 205.6h0M651.0 206.7h0M656.6 201.0h0M651.5 206.9h0M654.7 202.6h0M659.1 200.1h0M644.5 207.2h0M654.2 202.8h0M641.8 211.3h0M647.0 206.8h0M657.6 205.8h0M660.3 201.9h0M659.6 202.4h0M654.4 205.2h0M656.9 201.6h0M657.9 202.3h0M650.4 206.0h0M640.3 209.0h0M634.1 212.5h0M654.5 204.2h0M654.5 200.3h0M653.7 205.4h0M649.6 204.7h0M651.7 205.7h0M653.3 202.9h0M648.2 205.1h0M651.7 205.1h0M639.8 211.3h0M648.3 206.6h0M650.9 203.0h0M649.2 205.9h0M640.7 207.0h0M637.1 210.0h0M651.6 207.9h0M636.7 208.5h0M655.4 203.1h0M638.6 209.7h0M654.8 204.4h0M643.4 206.8h0M658.4 203.7h0M639.8 207.7h0M638.0 209.2h0M652.2 208.6h0M654.9 204.0h0M643.2 208.3h0M646.6 207.7h0M651.8 204.0h0M641.7 208.6h0M644.3 206.1h0M649.2 203.7h0M642.0 207.4h0M637.7 211.6h0M658.6 203.9h0M637.0 207.6h0M660.7 202.5h0M656.8 204.6h0M645.9 206.6h0M657.2 202.2h0M635.4 209.2h0M649.1 204.5h0M643.3 208.7h0M641.9 208.2h0M658.2 203.2h0M634.7 209.9h0M657.3 206.6h0M635.8 209.9h0M652.2 206.8h0M641.5 205.5h0M648.1 203.2h0M659.0 199.7h0M655.5 202.2h0M636.4 210.2h0M642.0 206.0h0M647.0 206.5h0M653.3 203.2h0M633.8 211.7h0M657.3 204.0h0M656.7 202.4h0M659.9 199.3h0M639.2 208.6h0M639.5 204.6h0M656.5 198.7h0M647.8 208.1h0M640.4 208.2h0M634.1 211.6h0M639.6 208.6h0M652.2 205.5h0M653.7 204.2h0M643.4 205.6h0M658.8 201.0h0M647.6 205.5h0M647.8 205.9h0M644.5 206.7h0M644.7 206.6h0M643.5 206.2h0M656.3 203.4h0M645.7 205.7h0M640.0 210.5h0M645.6 205.2h0M659.0 199.6h0M651.2 204.6h0M636.5 211.7h0M645.1 204.4h0M646.4 206.9h0M634.0 215.1h0M660.0 202.6h0M658.8 201.6h0M636.4 208.7h0M648.8 203.5h0M642.2 206.5h0M639.5 208.2h0M641.2 211.2h0M635.1 211.6h0M652.5 204.2h0M643.7 206.0h0M652.8 206.1h0M656.0 204.5h0M649.3 204.6h0M643.1 210.6h0M637.5 212.3h0M651.5 205.2h0M652.1 204.2h0M655.1 204.5h0M637.4 212.9h0M634.9 209.8h0M657.8 205.1h0M650.3 204.1h0M636.2 209.6h0M653.1 203.9h0M635.2 208.6h0M651.0 205.8h0M648.9 204.2h0M653.3 202.2h0M636.2 208.7h0M658.6 200.4h0M659.4 203.5h0M660.6 200.5h0M654.6 203.4h0M642.2 209.3h0M660.5 202.2h0M650.5 206.0h0M653.3 205.2h0M651.8 204.6h0M639.3 206.7h0M657.0 203.7h0M651.4 204.6h0M639.7 210.8h0M644.0 206.9h0M637.6 207.0h0M645.5 205.2h0M660.8 201.2h0M644.2 207.9h0M644.5 208.5h0M655.7 203.7h0M635.9 211.7h0M636.9 211.3h0M654.1 202.4h0M637.2 210.6h0M650.4 202.1h0M656.0 205.8h0M649.1 204.8h0M635.9 211.5h0M639.3 208.2h0M648.5 207.5h0M659.8 202.2h0M651.6 205.0h0M652.8 205.2h0M650.0 204.4h0M642.6 204.9h0M650.3 206.1h0M633.9 208.6h0M645.0 206.6h0M655.9 203.5h0M639.3 204.8h0M651.4 208.5h0M653.4 205.4h0M637.9 211.9h0M657.2 203.6h0M640.3 208.5h0M660.0 195.8h0M643.1 206.7h0M650.4 202.1h0M659.7 200.1h0M656.1 204.1h0M647.0 205.3h0M639.0 205.7h0M650.5 204.8h0M649.8 205.0h0M635.4 208.8h0M644.1 209.6h0M658.9 203.9h0M648.1 205.3h0M638.6 207.8h0M651.3 206.4h0M646.1 207.0h0M658.7 202.8h0M647.1 206.4h0M634.4 208.8h0M638.1 208.7h0M638.5 208.4h0M659.7 204.7h0M643.5 209.0h0M643.2 206.7h0M660.4 204.8h0M639.3 208.0h0M650.7 206.2h0M659.6 203.7h0M658.6 201.6h0M638.0 210.0h0M646.6 207.7h0M640.6 209.2h0M652.8 204.3h0M640.4 203.5h0M638.5 212.3h0M641.1 208.0h0M637.2 209.5h0M653.3 202.7h0M641.3 208.5h0M644.6 211.1h0M641.2 205.7h0M644.1 208.9h0M642.0 207.8h0M643.3 209.6h0M653.1 206.2h0M638.4 209.6h0M652.5 203.1h0M643.2 205.9h0M636.2 210.4h0M636.9 208.4h0M658.3 203.4h0M634.8 209.7h0M641.2 207.6h0M657.3 202.0h0M635.8 210.6h0M639.4 208.7h0M641.0 207.6h0M656.6 203.1h0M636.8 210.6h0M659.6 199.5h0M636.9 210.0h0M649.2 204.2h0M654.8 203.5h0M649.0 203.5h0M647.6 209.7h0M665.0 199.2h0M665.8 200.7h0M661.6 202.4h0M663.8 202.7h0M663.6 201.8h0M662.2 199.8h0M664.1 200.7h0M664.1 202.3h0M666.3 202.1h0M661.4 203.1h0M662.7 201.0h0M662.0 199.1h0M662.3 203.9h0M662.8 202.0h0M663.0 202.6h0M666.2 202.2h0M662.8 201.3h0M663.6 200.8h0M661.9 204.6h0M662.2 203.9h0M662.2 200.1h0M664.1 201.1h0M662.7 201.1h0M662.5 202.9h0M663.9 202.3h0M661.2 201.7h0M665.7 202.0h0M661.3 204.3h0M663.3 201.9h0M666.3 199.4h0M662.0 204.0h0M661.3 200.7h0M663.7 200.5h0M664.4 203.0h0M663.1 201.9h0M662.2 202.2h0M664.8 200.3h0M664.2 200.4h0M662.9 204.2h0M664.4 203.8h0M663.6 194.6h0M665.5 194.0h0M665.6 196.3h0M665.7 198.0h0" stroke="#000" stroke-width="1.8" stroke-linecap="round" fill="none"/>
<path d="M633.9 210.6L666.9 200.7" stroke="#3A8FDB" stroke-width="1.9" fill="none"/>
<text x="647.0" y="178.6" text-anchor="middle" font-size="9" fill="#111" stroke="#111" stroke-width="0.22">SC Fat</text>
<rect x="695.8" y="169.3" width="89.0" height="13.3" fill="#D9D9D9"/>
<rect x="695.8" y="182.6" width="89.0" height="58.7" fill="#EBEBEB"/>
<path d="M710.2 182.6V241.3M731.5 182.6V241.3M752.9 182.6V241.3M774.3 182.6V241.3M695.8 232.9H784.8M695.8 218.7H784.8M695.8 204.5H784.8M695.8 190.3H784.8" stroke="#fff" stroke-width="0.9" fill="none"/>
<path d="M699.5 182.6V241.3M720.9 182.6V241.3M742.2 182.6V241.3M763.6 182.6V241.3M695.8 240H784.8M695.8 225.8H784.8M695.8 211.6H784.8M695.8 197.4H784.8M695.8 183.2H784.8" stroke="#fff" stroke-width="1.1" fill="none"/>
<path d="M730.1 202.8h0M726.7 207.7h0M740.4 201.1h0M737.5 201.7h0M732.3 203.4h0M736.5 202.7h0M728.0 203.7h0M731.9 198.8h0M736.3 201.6h0M741.0 200.1h0M732.0 203.7h0M727.6 197.8h0M728.1 199.9h0M731.8 201.4h0M737.3 199.2h0M738.6 202.3h0M738.4 200.9h0M741.5 199.0h0M738.2 200.3h0M738.0 202.8h0M736.7 203.1h0M738.0 199.4h0M739.0 199.6h0M743.2 204.3h0M729.6 203.2h0M737.6 197.7h0M728.7 205.4h0M730.1 202.7h0M742.4 202.9h0M733.5 200.1h0M736.3 204.1h0M730.2 206.4h0M735.3 202.4h0M727.0 198.4h0M736.5 202.7h0M742.9 202.3h0M738.3 199.4h0M737.9 200.1h0M736.0 197.2h0M732.0 205.8h0M739.8 204.1h0M733.2 203.1h0M732.3 201.6h0M735.9 200.5h0M743.2 196.3h0M739.1 204.1h0M738.1 202.7h0M728.8 204.1h0M740.4 197.8h0M733.8 200.9h0M737.3 202.0h0M736.2 203.9h0M740.0 197.8h0M727.1 201.9h0M728.2 197.1h0M731.4 203.3h0M730.0 199.3h0M738.2 203.7h0M728.6 205.2h0M728.1 205.7h0M735.6 202.6h0M727.7 206.3h0M740.1 201.4h0M732.2 202.8h0M731.7 203.9h0M736.8 199.5h0M743.2 199.2h0M731.4 202.9h0M730.4 199.5h0M732.9 201.6h0M739.9 199.7h0M742.5 199.3h0M729.2 203.4h0M727.1 202.9h0M731.8 204.8h0M732.0 199.8h0M739.3 196.3h0M738.2 197.7h0M739.3 201.5h0M733.3 206.2h0M758.3 197.3h0M759.6 197.5h0M760.7 195.1h0M751.4 197.5h0M750.6 199.5h0M750.6 196.3h0M757.9 198.8h0M760.8 194.3h0M754.3 196.5h0M752.3 201.8h0M756.0 195.1h0M752.0 200.4h0M754.4 202.7h0M748.2 200.0h0M746.7 199.5h0M751.7 195.0h0M749.5 199.3h0M747.6 195.0h0M760.9 190.7h0M756.5 193.0h0M751.4 194.1h0M761.3 193.3h0M746.8 200.3h0M750.8 196.0h0M759.6 192.3h0M760.9 193.7h0M758.1 195.8h0M748.1 202.4h0M754.4 194.7h0M746.2 198.2h0M746.1 202.4h0M759.2 194.6h0M745.1 197.7h0M746.7 199.3h0M746.8 197.0h0M756.7 193.8h0M755.4 199.8h0M748.6 199.1h0M751.8 196.1h0M760.7 192.0h0M748.5 194.8h0M746.2 204.0h0M755.7 196.2h0M746.8 197.1h0M754.2 193.4h0M749.3 193.9h0M745.6 201.7h0M755.9 196.9h0M757.4 198.1h0M750.2 195.7h0M747.7 202.0h0M761.1 191.2h0M749.1 195.8h0M749.1 196.9h0M751.1 203.0h0M749.0 199.9h0M749.1 196.3h0M760.2 198.1h0M746.4 199.7h0M758.7 195.3h0M753.8 194.4h0M745.7 198.6h0M747.6 198.0h0M755.8 197.1h0M754.2 196.5h0M749.0 198.5h0M749.8 196.1h0M760.3 194.9h0M757.1 192.9h0M755.9 200.2h0M760.2 191.5h0M748.9 198.7h0M750.5 194.9h0M758.8 194.8h0M752.3 195.0h0M752.4 193.3h0M758.3 196.5h0M761.4 193.9h0M759.6 195.1h0M757.7 194.8h0M718.0 212.4h0M715.7 210.3h0M724.0 211.4h0M716.5 210.2h0M718.6 211.3h0M723.7 208.9h0M719.0 209.3h0M718.7 209.8h0M716.3 207.0h0M716.2 209.5h0M710.3 219.8h0M750.1 226.4h0M716.4 211.6h0" stroke="#000" stroke-width="1.8" stroke-linecap="round" fill="none"/>
<path d="M710.3 210.9L761.5 194.0" stroke="#8E86D0" stroke-width="1.9" fill="none"/>
<text x="740.3" y="178.6" text-anchor="middle" font-size="9" fill="#111" stroke="#111" stroke-width="0.22">Liver</text>
<rect x="416.0" y="245.6" width="89.0" height="13.3" fill="#D9D9D9"/>
<rect x="416.0" y="258.9" width="89.0" height="58.7" fill="#EBEBEB"/>
<path d="M430.4 258.9V317.6M451.7 258.9V317.6M473.1 258.9V317.6M494.5 258.9V317.6M416.0 309.2H505.0M416.0 295H505.0M416.0 280.8H505.0M416.0 266.6H505.0" stroke="#fff" stroke-width="0.9" fill="none"/>
<path d="M419.7 258.9V317.6M441.1 258.9V317.6M462.4 258.9V317.6M483.8 258.9V317.6M416.0 316.3H505.0M416.0 302.1H505.0M416.0 287.9H505.0M416.0 273.7H505.0M416.0 259.5H505.0" stroke="#fff" stroke-width="1.1" fill="none"/>
<path d="M452.7 278.7h0M471.6 273.3h0M471.9 271.7h0M468.6 273.8h0M464.4 276.7h0M463.7 277.7h0M467.5 279.9h0M453.4 277.0h0M473.2 275.9h0M472.7 273.8h0M469.9 270.1h0M457.1 278.8h0M456.5 276.8h0M478.6 271.4h0M477.7 269.8h0M471.9 273.1h0M473.0 273.9h0M463.5 272.9h0M475.6 272.5h0M470.2 276.6h0M462.9 276.8h0M470.0 272.6h0M452.6 281.8h0M461.7 274.7h0M474.6 270.6h0M464.2 271.0h0M466.4 276.3h0M466.5 273.5h0M477.5 275.0h0M456.1 279.2h0M470.0 273.5h0M463.3 275.0h0M457.1 278.1h0M451.7 279.9h0M467.9 275.8h0M455.6 279.4h0M467.1 274.0h0M462.7 274.9h0M462.0 274.9h0M475.9 269.7h0M452.9 276.7h0M466.5 278.8h0M462.3 277.4h0M454.7 279.1h0M461.7 277.8h0M475.3 269.8h0M456.0 276.6h0M469.9 274.0h0M458.1 277.4h0M465.3 272.5h0M466.2 275.7h0M452.4 280.1h0M473.6 270.6h0M461.2 275.6h0M456.4 275.1h0M456.3 277.4h0M478.7 269.3h0M477.5 272.5h0M463.8 277.8h0M458.1 277.6h0M470.7 279.3h0M451.8 278.7h0M475.1 270.0h0M450.5 279.9h0M451.7 280.1h0M460.0 274.6h0M463.5 276.0h0M450.5 277.9h0M458.6 272.7h0M478.7 269.4h0M472.6 270.9h0M452.0 278.5h0M475.6 271.4h0M463.7 275.2h0M478.8 270.8h0M459.6 274.8h0M459.2 280.7h0M469.9 274.4h0M464.4 274.1h0M458.3 279.4h0M465.4 275.5h0M468.7 275.7h0M459.3 276.3h0M474.1 270.6h0M471.9 270.0h0M472.0 272.0h0M469.4 275.5h0M457.0 277.4h0M470.7 272.3h0M455.4 275.4h0M454.4 283.5h0M464.8 274.6h0M455.3 282.5h0M454.0 277.4h0M467.4 273.6h0M478.4 269.9h0M451.9 277.7h0M463.1 275.1h0M452.9 280.7h0M465.9 274.3h0M466.9 272.2h0M464.5 275.8h0M451.4 279.7h0M470.5 276.2h0M465.0 272.9h0M466.8 275.9h0M469.6 275.5h0M476.4 272.6h0M462.8 277.9h0M476.6 272.2h0M455.4 275.7h0M463.4 274.2h0M455.4 275.4h0M461.1 273.4h0M476.4 273.6h0M478.4 270.0h0M463.9 272.5h0M458.3 272.6h0M459.6 280.2h0M476.3 274.8h0M463.0 275.0h0M456.0 279.0h0M474.4 274.5h0M465.0 274.5h0M462.6 277.9h0M476.4 276.6h0M471.8 273.2h0M450.7 279.7h0M478.2 269.7h0M463.4 273.9h0M455.5 278.1h0M476.6 272.2h0M462.4 277.7h0M470.1 277.3h0M472.0 274.1h0M455.9 276.2h0M478.7 269.5h0M466.5 270.4h0M452.0 279.9h0M465.8 279.0h0M450.8 278.2h0M478.6 268.8h0M469.5 276.5h0M461.3 280.1h0M473.4 272.4h0M473.2 271.2h0M470.5 276.0h0M457.1 278.7h0M453.0 281.0h0M475.0 274.7h0M475.9 274.7h0M460.3 276.6h0M461.5 277.3h0M461.9 277.8h0M458.3 283.2h0M477.4 267.6h0M465.6 277.2h0M470.8 273.8h0M467.8 277.0h0M452.9 278.5h0M452.4 282.7h0M454.6 278.6h0M464.6 275.9h0M468.4 272.3h0M479.0 273.2h0M476.3 273.2h0M471.6 273.8h0M461.4 272.0h0M460.3 280.1h0M470.4 273.0h0M460.3 278.4h0M472.4 272.3h0M471.3 271.9h0M453.8 278.7h0M473.5 272.1h0M453.0 278.7h0M459.5 278.5h0M478.4 271.5h0M469.1 277.7h0M475.0 272.9h0M477.0 273.2h0M457.9 278.2h0M473.3 271.1h0M461.1 275.9h0M452.2 278.5h0M453.4 276.8h0M454.0 284.2h0M468.5 273.3h0M468.8 274.2h0M474.8 272.5h0M458.8 280.3h0M472.3 271.9h0M458.0 275.2h0M459.4 275.0h0M469.2 274.2h0M461.6 275.1h0M479.1 268.9h0M459.4 273.3h0M457.2 275.3h0M475.7 271.7h0M475.5 271.8h0M455.0 278.3h0M460.1 276.5h0M465.0 276.5h0M452.2 277.9h0M461.0 278.2h0M472.5 274.7h0M472.5 272.2h0M454.6 280.0h0M459.1 277.9h0M458.1 282.2h0M470.1 272.1h0M454.1 279.0h0M478.7 271.3h0M453.7 278.1h0M465.6 274.8h0M470.6 275.1h0M477.7 267.0h0M468.0 275.4h0M475.0 270.1h0M465.6 271.3h0M456.7 279.5h0M462.5 276.1h0M467.8 276.3h0M465.6 273.0h0M472.9 273.6h0M465.9 277.5h0M461.4 273.8h0M465.2 273.4h0M465.3 277.3h0M450.6 277.5h0M459.8 276.7h0M466.8 269.0h0M470.9 269.8h0M462.6 277.4h0M471.8 273.8h0M464.8 277.4h0M461.0 276.4h0M457.3 277.8h0M473.3 271.1h0M476.9 271.4h0M471.3 276.6h0M456.7 279.9h0M470.7 270.5h0M464.9 273.0h0M477.0 271.9h0M450.5 280.4h0M472.6 273.3h0M463.8 275.8h0M475.0 275.8h0M467.8 272.6h0M450.5 281.5h0M470.3 273.4h0M465.7 280.7h0M457.2 277.4h0M453.8 276.1h0M461.8 281.3h0M466.5 271.7h0M464.1 274.7h0M450.8 281.6h0M454.6 282.2h0M469.9 271.3h0M466.1 274.5h0M471.7 272.0h0M462.3 276.9h0M457.7 279.5h0M473.3 270.9h0M456.6 280.2h0M452.1 277.7h0M460.9 280.4h0M463.3 278.0h0M456.3 281.4h0M477.9 268.4h0M457.0 281.8h0M453.8 281.5h0M469.4 272.6h0M454.4 278.4h0M458.4 272.8h0M462.2 272.3h0M458.2 276.3h0M469.2 272.6h0M454.4 282.8h0M468.9 276.1h0M453.7 279.8h0M467.0 275.2h0M478.5 274.0h0M473.0 274.9h0M477.6 273.2h0M466.1 272.8h0M454.9 277.8h0M461.0 277.5h0M472.7 273.5h0M454.1 278.3h0M469.5 275.5h0M459.6 277.8h0M476.8 275.4h0M460.4 275.5h0M459.6 275.1h0M458.2 276.9h0M465.9 274.1h0M477.8 270.5h0M465.9 270.7h0M471.7 272.8h0M465.3 278.2h0M452.7 281.7h0M467.2 273.2h0M467.5 272.3h0M467.5 273.0h0M458.9 275.6h0M458.0 277.3h0M459.8 280.4h0M451.2 281.4h0M455.0 282.6h0M458.6 278.4h0M465.1 278.4h0M476.6 271.5h0M470.5 274.0h0M465.2 279.6h0M471.0 271.9h0M463.1 274.4h0M451.7 282.8h0M470.1 273.5h0M470.7 272.1h0M469.2 274.7h0M474.9 270.4h0M472.9 272.5h0M474.2 270.1h0M451.6 279.4h0M479.1 271.2h0M467.3 273.6h0M467.4 273.0h0M468.0 273.9h0M458.1 278.7h0M459.1 279.1h0M475.6 272.8h0M467.6 275.9h0M478.0 270.8h0M456.3 277.9h0M467.2 274.9h0M467.6 274.6h0M451.4 279.5h0M468.4 271.0h0M461.4 274.0h0M462.7 277.5h0M455.7 277.6h0M467.5 275.4h0M469.7 274.1h0M476.0 272.4h0M474.6 273.7h0M478.6 274.1h0M478.5 276.5h0M470.5 273.2h0M458.4 275.0h0M465.9 277.2h0M452.7 278.3h0M466.6 275.8h0M459.1 276.8h0M465.8 277.0h0M471.9 273.7h0M452.1 279.9h0M475.6 277.3h0M451.4 279.4h0M464.4 276.0h0M456.6 283.6h0M451.4 278.4h0M464.1 275.8h0M457.9 277.3h0M452.6 278.7h0M474.1 273.5h0M457.4 280.3h0M477.4 272.5h0M467.9 275.5h0M460.6 272.1h0M452.1 275.6h0M475.0 273.3h0M453.5 280.1h0M472.7 272.3h0M465.6 274.1h0M463.5 277.5h0M452.6 281.7h0M462.4 272.1h0M450.8 277.8h0M472.3 276.5h0M470.7 277.5h0M454.2 280.8h0M465.0 275.0h0M455.5 277.4h0M470.8 274.4h0M455.8 282.0h0M455.3 278.2h0M458.5 276.3h0M478.3 271.2h0M473.9 273.7h0M461.9 275.2h0M473.2 273.0h0M460.7 279.4h0M455.7 278.3h0M476.2 274.7h0M451.4 277.8h0M473.2 271.8h0M478.0 273.5h0M452.7 279.0h0M475.1 269.5h0M472.8 277.7h0M451.5 280.2h0M463.1 272.5h0M457.8 281.3h0M461.4 277.0h0M461.3 279.8h0M461.7 276.7h0M450.6 285.5h0M458.1 281.3h0M458.7 278.7h0M469.0 273.9h0M470.4 272.9h0M472.0 272.3h0M468.7 271.8h0M476.1 270.4h0M466.4 273.4h0M459.4 279.5h0M451.5 280.2h0M471.3 266.4h0M466.5 270.0h0M455.0 276.9h0M465.1 273.8h0M477.5 269.3h0M467.8 275.5h0M459.2 273.0h0M473.6 273.6h0M461.7 276.8h0M450.7 275.3h0M452.6 284.1h0M478.0 270.5h0M453.0 283.2h0M472.9 274.4h0M451.2 280.2h0M462.5 277.1h0M458.4 277.2h0M460.2 278.8h0M452.9 279.6h0M461.9 279.2h0M472.2 274.0h0M465.4 278.5h0M454.1 277.6h0M473.5 275.6h0M475.4 270.6h0M463.5 276.9h0M460.7 277.6h0M450.8 277.4h0M452.4 279.4h0M461.1 281.0h0M453.6 278.1h0M478.3 277.7h0M468.9 273.6h0M459.3 278.2h0M467.2 277.9h0M455.2 278.5h0M476.8 272.4h0M464.8 271.1h0M470.5 274.7h0M455.6 274.2h0M464.0 272.7h0M470.9 275.0h0M461.5 278.5h0M452.2 276.7h0M463.8 276.2h0M474.1 272.2h0M463.6 276.5h0M478.6 273.8h0M466.5 275.9h0M475.8 274.2h0M451.3 283.4h0M468.5 275.0h0M465.0 271.5h0M460.6 273.3h0M476.3 272.0h0M453.0 279.1h0M464.3 274.6h0M459.2 274.3h0M478.0 270.6h0M472.9 274.0h0M456.1 279.3h0M454.0 276.5h0M451.0 274.2h0M455.5 280.0h0M477.1 276.2h0M475.5 270.3h0M473.4 273.0h0M461.9 276.2h0M464.2 273.0h0M466.9 274.7h0M473.7 275.7h0M450.4 284.7h0M455.5 278.7h0M467.1 277.4h0M454.4 278.3h0M477.4 274.4h0M451.6 280.6h0M478.4 274.5h0M456.5 279.1h0M455.9 279.5h0M462.6 274.9h0M468.7 271.3h0M478.6 271.5h0M464.1 277.8h0M476.2 267.4h0M476.0 271.1h0M478.7 269.7h0M460.7 275.5h0M464.0 272.5h0M450.9 277.8h0M461.4 275.1h0M460.5 275.2h0M453.9 281.0h0M474.3 273.9h0M458.4 277.9h0M454.1 278.8h0M453.6 279.1h0M451.0 279.3h0M472.1 273.1h0M465.7 276.3h0M465.4 279.0h0M462.2 274.5h0M478.1 269.9h0M461.2 278.7h0M464.0 274.7h0M470.2 272.9h0M477.1 271.4h0M475.1 276.4h0M475.7 274.8h0M455.6 279.9h0M477.6 267.8h0M474.1 274.5h0M459.8 278.0h0M473.5 275.3h0M477.8 272.5h0M471.8 272.5h0M471.6 278.1h0M474.5 278.9h0M475.7 270.5h0M472.8 272.9h0M452.6 280.9h0M456.3 276.1h0M453.8 276.9h0M463.8 280.7h0M452.2 280.0h0M466.2 272.6h0M477.0 273.1h0M478.6 271.8h0M451.4 277.7h0M470.0 274.5h0M454.4 281.6h0M475.2 273.8h0M451.2 283.0h0M453.3 278.0h0M459.6 281.1h0M450.5 277.9h0M469.4 277.8h0M456.2 278.2h0M471.1 276.9h0M477.7 272.1h0M463.9 273.5h0M463.9 273.3h0M479.0 268.0h0M459.4 277.5h0M475.9 271.7h0M470.9 273.1h0M450.6 278.8h0M458.9 278.4h0M471.1 271.0h0M451.6 279.1h0M475.0 269.7h0M476.6 270.7h0M472.2 271.6h0M473.7 274.3h0M467.5 275.6h0M473.6 275.6h0M463.8 276.6h0M462.1 276.8h0M470.6 271.8h0M463.7 278.8h0M459.3 270.0h0M457.9 278.1h0M462.9 273.3h0M461.3 274.3h0M472.1 278.9h0M472.9 273.5h0M473.3 269.5h0M474.7 277.9h0M460.8 275.1h0M461.0 278.9h0M474.5 273.5h0M455.5 278.1h0M470.6 277.9h0M465.4 274.9h0M469.5 275.5h0M470.4 275.5h0M469.6 272.4h0M457.1 270.1h0M451.0 279.3h0M477.8 270.1h0M476.2 272.0h0M464.9 277.2h0M469.4 273.5h0M452.9 276.0h0M463.5 275.5h0M467.3 272.7h0M470.5 274.2h0M456.6 272.5h0M453.0 283.1h0M478.0 270.0h0M474.8 271.1h0M455.5 278.0h0M474.0 275.1h0M473.7 275.3h0M455.6 279.1h0M473.5 272.5h0M461.3 279.5h0M460.0 279.6h0M454.9 277.5h0M467.4 272.4h0M468.0 275.8h0M465.1 277.1h0M453.2 281.0h0M473.3 267.2h0M459.5 276.2h0M457.9 277.9h0M468.8 272.0h0M455.6 273.3h0M476.6 269.1h0M469.0 277.5h0M473.1 273.1h0M460.1 278.0h0M462.7 277.1h0M457.6 280.7h0M457.6 278.8h0M462.3 278.9h0M473.0 272.2h0M464.8 275.5h0M474.3 275.7h0M453.5 283.1h0M458.7 278.7h0M451.4 278.5h0M476.7 270.6h0M452.1 279.8h0M465.9 282.7h0M469.7 275.1h0M456.2 280.1h0M478.6 271.9h0M478.6 273.9h0M457.2 279.0h0M454.3 280.5h0M469.1 268.0h0M465.2 273.9h0M467.7 275.1h0M468.1 274.6h0M477.9 271.6h0M472.5 272.7h0M459.3 278.3h0M471.9 273.3h0M463.3 273.7h0M478.4 269.3h0M464.1 275.1h0M450.6 277.1h0M476.8 271.2h0M458.3 279.9h0M474.0 276.6h0M468.0 276.2h0M471.8 273.5h0M471.6 272.5h0M476.4 269.4h0M474.3 273.8h0M468.9 276.1h0M459.7 275.5h0M464.6 273.0h0M458.4 278.8h0M460.0 276.4h0M463.6 272.8h0M462.5 275.6h0M458.7 277.7h0M459.1 282.2h0M459.3 274.4h0M455.8 277.0h0M467.1 274.6h0M453.0 280.5h0M457.5 280.8h0M455.2 278.9h0M470.7 273.9h0M458.4 275.2h0M453.2 282.1h0M474.0 269.3h0M462.9 276.1h0M473.5 270.1h0M459.6 279.5h0M460.3 276.3h0M466.4 272.3h0M452.3 279.4h0M478.5 274.5h0M454.2 279.8h0M476.6 270.5h0M469.3 277.3h0M472.4 276.4h0M456.4 277.8h0M476.0 274.1h0M465.8 273.7h0M462.2 279.1h0M455.9 282.7h0M455.3 280.4h0M475.2 268.8h0M478.3 273.2h0M462.4 276.4h0M471.2 273.0h0M470.5 275.9h0M464.6 273.2h0M464.2 275.4h0M466.3 274.1h0M460.3 280.9h0M471.8 277.3h0M462.4 282.6h0M464.9 276.0h0M455.6 279.1h0M478.5 269.5h0M452.6 276.2h0M471.0 274.2h0M469.4 274.7h0M460.3 276.0h0M478.5 267.7h0M451.4 281.8h0M458.2 276.3h0M460.1 277.7h0M468.8 275.0h0M467.3 272.9h0M470.8 275.4h0M475.1 274.7h0M450.9 278.6h0M466.5 275.1h0M461.9 277.1h0M470.2 274.1h0M465.5 274.2h0M460.4 277.9h0M450.5 278.5h0M459.3 276.4h0M463.2 272.7h0M460.0 274.2h0M461.3 274.8h0M469.1 274.7h0M460.0 276.9h0M474.9 273.7h0M460.7 270.4h0M462.8 276.7h0M462.8 275.0h0M476.4 268.8h0M467.8 277.7h0M478.1 273.1h0M450.4 281.1h0M477.9 273.6h0M455.9 281.3h0M476.2 273.1h0M451.6 276.9h0M475.0 270.6h0M468.6 274.3h0M470.1 273.8h0M461.6 280.4h0M461.5 275.1h0M454.8 277.8h0M454.4 281.4h0M468.3 274.0h0M460.2 277.5h0M451.1 281.2h0M455.2 280.9h0M455.2 280.2h0M455.9 280.6h0M463.4 275.0h0M476.6 270.9h0M467.1 274.1h0M471.7 273.8h0M453.4 280.2h0M470.3 269.2h0M475.3 276.4h0M479.0 268.3h0M470.9 272.8h0M467.8 274.4h0M478.1 272.4h0M454.0 279.5h0M473.2 275.6h0M471.1 276.7h0M471.3 273.7h0M460.5 280.7h0M452.6 277.6h0M454.4 276.4h0M469.8 281.8h0M459.3 280.9h0M477.7 270.8h0M453.8 278.6h0M473.8 272.4h0M464.1 274.8h0M458.8 275.8h0M457.7 275.9h0M460.5 272.9h0M460.9 276.8h0M456.8 276.2h0M456.6 281.9h0M478.3 271.5h0M462.5 279.1h0M468.3 271.3h0M470.6 268.4h0M459.9 275.9h0M477.3 274.5h0M458.8 277.8h0M455.9 278.4h0M451.6 279.4h0M457.9 275.3h0M452.1 277.5h0M468.4 280.4h0M466.9 271.8h0M451.0 281.2h0M477.7 272.7h0M471.3 270.2h0M466.2 275.7h0M477.6 274.5h0M465.6 278.3h0M455.4 278.5h0M472.8 270.9h0M477.9 267.9h0M452.0 280.1h0M464.8 276.6h0M456.8 274.4h0M476.4 272.8h0M453.1 276.0h0M473.6 272.2h0M456.3 277.8h0M468.8 274.8h0M470.3 273.1h0M472.2 274.2h0M451.8 281.3h0M464.2 276.0h0M453.9 280.5h0M454.0 278.4h0M455.0 278.5h0M454.6 279.5h0M477.3 272.0h0M466.5 275.5h0M457.6 273.9h0M464.3 275.7h0M451.9 281.1h0M456.5 278.9h0M468.4 272.9h0M470.3 274.2h0M468.1 274.8h0M478.7 271.6h0M478.6 270.7h0M474.4 271.6h0M463.7 274.9h0M472.1 276.9h0M457.5 280.3h0M475.3 278.1h0M457.3 276.1h0M478.9 268.5h0M450.7 277.2h0M473.3 272.5h0M464.8 273.0h0M473.9 272.7h0M465.3 275.7h0M474.3 276.0h0M470.7 275.4h0M468.7 275.6h0M477.7 269.3h0M453.7 275.4h0M477.0 272.7h0M465.4 274.5h0M470.7 273.0h0M469.6 275.8h0M461.6 280.5h0M465.5 277.0h0M478.4 274.4h0M464.4 276.4h0M476.7 272.0h0M450.6 280.6h0M466.9 275.3h0M470.2 272.7h0M461.7 278.7h0M452.7 277.5h0M473.2 276.7h0M472.0 273.1h0M461.3 275.8h0M453.1 281.1h0M474.5 276.0h0M472.7 271.6h0M474.4 274.0h0M473.9 270.8h0M457.9 276.1h0M468.3 274.4h0M463.7 275.9h0M461.6 274.4h0M462.1 275.6h0M469.7 276.1h0M479.1 270.6h0M463.9 274.6h0M460.9 276.4h0M468.4 274.0h0M468.5 274.7h0M462.1 276.7h0M468.9 276.3h0M469.3 277.4h0M471.8 270.7h0M455.1 280.1h0M469.1 273.7h0M462.4 279.7h0M475.7 271.7h0M468.1 276.4h0M473.7 266.0h0M473.7 275.0h0M456.5 280.4h0M452.6 277.4h0M472.2 270.6h0M451.9 284.5h0M477.7 270.8h0M470.2 271.8h0M462.5 279.1h0M469.6 272.5h0M454.1 280.2h0M468.7 276.6h0M476.8 272.5h0M450.3 281.3h0M477.4 274.6h0M459.3 272.3h0M461.8 277.6h0M477.4 273.2h0M473.3 270.9h0M461.4 276.8h0M478.6 268.1h0M451.3 280.6h0M469.4 273.3h0M465.0 275.3h0M475.9 271.6h0M450.9 280.5h0M459.6 277.5h0M464.1 272.0h0M452.4 281.1h0M468.9 275.5h0M474.8 273.1h0M476.4 270.5h0M454.5 278.0h0M464.9 273.4h0M478.7 274.1h0M452.4 279.0h0M470.6 274.1h0M458.6 278.2h0M476.5 271.4h0M467.9 279.0h0M476.2 271.3h0M451.8 279.5h0M467.8 277.8h0M462.4 276.5h0M453.4 275.8h0M462.1 277.3h0M471.7 272.0h0M467.1 275.3h0M467.4 276.5h0M458.4 279.7h0M465.0 276.4h0M463.2 273.2h0M476.6 269.9h0M475.6 273.7h0M462.9 273.9h0M464.8 275.8h0M458.8 279.1h0M466.7 274.0h0M454.1 281.1h0M478.2 274.8h0M462.3 273.5h0M450.6 284.3h0M458.9 276.3h0M477.7 274.8h0M459.3 277.4h0M461.5 277.1h0M478.4 272.1h0M472.9 277.8h0M460.7 277.1h0M455.1 278.8h0M461.6 278.6h0M461.1 276.9h0M476.1 269.7h0M465.9 276.8h0M477.0 271.0h0M478.8 273.6h0M475.4 271.3h0M462.0 275.0h0M461.6 271.0h0M466.1 273.1h0M469.9 272.9h0M474.8 269.2h0M473.9 274.9h0M459.3 274.9h0M471.5 274.6h0M461.2 278.1h0M472.7 270.5h0M450.7 279.6h0M474.8 269.4h0M470.4 277.0h0M464.2 263.9h0M469.8 263.5h0M474.8 263.5h0M452.9 287.5h0M460.2 285.8h0M470.3 267.3h0M465.3 266.3h0M453.9 286.8h0M473.1 265.2h0" stroke="#000" stroke-width="1.8" stroke-linecap="round" fill="none"/>
<path d="M450.5 280.1L479.2 270.9" stroke="#A57DCF" stroke-width="1.9" fill="none"/>
<text x="460.5" y="254.9" text-anchor="middle" font-size="9" fill="#111" stroke="#111" stroke-width="0.22">Monocytes</text>
<rect x="509.3" y="245.6" width="89.0" height="13.3" fill="#D9D9D9"/>
<rect x="509.3" y="258.9" width="89.0" height="58.7" fill="#EBEBEB"/>
<path d="M523.6 258.9V317.6M545 258.9V317.6M566.4 258.9V317.6M587.7 258.9V317.6M509.3 309.2H598.3M509.3 295H598.3M509.3 280.8H598.3M509.3 266.6H598.3" stroke="#fff" stroke-width="0.9" fill="none"/>
<path d="M513 258.9V317.6M534.3 258.9V317.6M555.7 258.9V317.6M577.1 258.9V317.6M509.3 316.3H598.3M509.3 302.1H598.3M509.3 287.9H598.3M509.3 273.7H598.3M509.3 259.5H598.3" stroke="#fff" stroke-width="1.1" fill="none"/>
<path d="M529.3 301.1h0M532.2 295.4h0M528.2 296.9h0M527.0 296.1h0M527.5 297.5h0M529.1 297.7h0M532.8 294.6h0M530.5 299.9h0M530.7 296.9h0M528.7 296.3h0M528.2 300.6h0M532.4 300.6h0M528.6 297.8h0M526.1 299.0h0M531.2 296.9h0M526.7 297.7h0M528.1 300.6h0M529.9 297.8h0M531.6 295.7h0M525.1 300.2h0M530.2 299.1h0M526.1 301.7h0M530.0 296.7h0M529.8 294.2h0M529.1 301.7h0M528.4 297.1h0M529.3 296.6h0M532.6 299.2h0M527.8 299.7h0M528.8 301.0h0M526.2 300.9h0M528.1 298.5h0M525.5 297.9h0M532.2 297.8h0M527.8 297.0h0M532.4 297.5h0M526.1 301.8h0M530.3 295.2h0M529.8 295.9h0M530.3 300.0h0M531.3 294.3h0M525.7 298.3h0M530.9 298.0h0M525.3 295.1h0M527.4 304.5h0M566.0 290.6h0M560.4 292.2h0M566.7 292.2h0M560.8 291.7h0M563.8 291.2h0M560.3 292.5h0M566.2 292.1h0M561.8 290.5h0M569.8 293.6h0M562.0 290.4h0M570.0 290.4h0M569.5 290.0h0M565.3 296.0h0M564.8 288.2h0M564.0 295.0h0M567.7 292.5h0M561.9 290.8h0M563.6 292.9h0M560.6 293.1h0M564.4 295.9h0M562.0 292.9h0M569.5 290.1h0M564.6 290.2h0M562.3 292.5h0M562.8 291.4h0M561.8 291.2h0M560.9 293.5h0M560.5 293.8h0M567.4 287.1h0M561.1 293.9h0M568.7 288.3h0M570.0 290.3h0M569.5 287.7h0M561.8 293.3h0M568.2 289.8h0M566.2 290.5h0M569.8 290.9h0M563.0 291.2h0M566.3 292.7h0M566.4 291.3h0M561.9 292.8h0M566.2 289.7h0M567.5 291.1h0M568.3 293.5h0M568.9 291.4h0M576.1 293.0h0" stroke="#000" stroke-width="1.8" stroke-linecap="round" fill="none"/>
<path d="M526.1 299.3L576.5 289.2" stroke="#C87AC2" stroke-width="1.9" fill="none"/>
<text x="553.8" y="254.9" text-anchor="middle" font-size="9" fill="#111" stroke="#111" stroke-width="0.22">Skeletal muscle</text>
<rect x="602.5" y="245.6" width="89.0" height="13.3" fill="#D9D9D9"/>
<rect x="602.5" y="258.9" width="89.0" height="58.7" fill="#EBEBEB"/>
<path d="M616.9 258.9V317.6M638.3 258.9V317.6M659.6 258.9V317.6M681 258.9V317.6M602.5 309.2H691.5M602.5 295H691.5M602.5 280.8H691.5M602.5 266.6H691.5" stroke="#fff" stroke-width="0.9" fill="none"/>
<path d="M606.2 258.9V317.6M627.6 258.9V317.6M649 258.9V317.6M670.3 258.9V317.6M602.5 316.3H691.5M602.5 302.1H691.5M602.5 287.9H691.5M602.5 273.7H691.5M602.5 259.5H691.5" stroke="#fff" stroke-width="1.1" fill="none"/>
<path d="M643.9 278.9h0M661.0 272.0h0M658.3 276.0h0M647.7 275.6h0M644.8 278.3h0M657.3 276.0h0M638.1 279.4h0M651.8 275.1h0M659.2 273.4h0M660.3 271.2h0M660.6 272.4h0M648.3 281.2h0M638.0 279.8h0M646.3 280.6h0M644.3 278.3h0M652.0 274.8h0M655.6 277.2h0M662.0 275.5h0M645.5 277.1h0M646.6 277.6h0M639.7 276.1h0M658.3 273.8h0M650.0 275.4h0M643.4 274.9h0M650.1 277.1h0M649.6 276.4h0M657.9 276.1h0M643.3 277.5h0M650.2 274.5h0M648.7 274.3h0M640.1 278.7h0M641.0 279.6h0M643.6 279.1h0M648.4 279.0h0M651.4 275.8h0M656.1 272.5h0M660.2 277.9h0M639.8 282.4h0M661.8 271.1h0M647.9 279.5h0M657.0 274.1h0M645.8 279.4h0M655.8 273.6h0M654.7 273.9h0M638.0 278.8h0M659.3 272.7h0M638.7 278.9h0M649.8 275.4h0M643.0 274.9h0M652.3 273.9h0M642.1 279.3h0M652.7 277.0h0M656.8 275.1h0M652.4 276.1h0M658.4 274.2h0M647.1 278.0h0M654.2 274.2h0M648.7 276.5h0M660.4 273.2h0M639.9 278.7h0M659.2 273.0h0M637.9 281.2h0M658.9 271.5h0M639.7 278.1h0M654.9 274.3h0M640.1 277.6h0M657.0 272.8h0M643.1 276.7h0M639.3 278.4h0M659.2 274.4h0M651.9 278.6h0M658.7 273.8h0M657.3 275.1h0M639.9 279.2h0M640.0 274.6h0M655.4 278.2h0M658.6 274.1h0M642.1 276.1h0M659.7 272.3h0M638.2 277.0h0M656.7 276.8h0M653.2 277.1h0M647.2 275.9h0M647.1 277.5h0M645.2 274.5h0M649.4 276.0h0M650.0 275.9h0M641.7 277.5h0M637.9 279.6h0M650.7 275.9h0M642.3 279.2h0M640.0 278.7h0M643.9 278.5h0M641.2 277.9h0M659.1 276.5h0M644.8 280.0h0M653.7 274.6h0M637.8 278.8h0M654.0 276.9h0M661.3 273.9h0M656.4 276.5h0M656.6 271.2h0M648.0 279.4h0M649.5 273.5h0M660.0 275.3h0M643.5 277.1h0M650.2 276.7h0M655.7 275.5h0M646.0 275.6h0M649.3 275.0h0M638.4 279.5h0M654.6 276.7h0M641.7 274.7h0M644.0 275.3h0M643.2 277.6h0M655.5 275.5h0M647.5 276.3h0M662.3 273.2h0M657.5 272.4h0M660.6 275.4h0M644.8 280.3h0M643.3 278.9h0M657.9 278.2h0M649.7 276.8h0M639.0 280.6h0M652.2 276.2h0M658.1 274.5h0M659.3 273.5h0M659.7 274.6h0M658.2 274.9h0M642.9 280.2h0M650.4 277.0h0M654.6 278.9h0M653.2 277.9h0M646.9 277.4h0M639.8 280.7h0M658.7 275.2h0M656.2 278.8h0M658.1 273.5h0M647.5 279.9h0M644.5 278.7h0M657.6 276.4h0M653.4 275.5h0M653.7 278.1h0M639.7 282.6h0M641.4 284.0h0M656.0 277.4h0M658.5 278.6h0M646.8 277.9h0M658.2 273.4h0M642.9 284.3h0M651.8 280.3h0M646.7 278.4h0M650.8 275.6h0M643.3 279.2h0M647.4 278.2h0M649.2 277.4h0M651.8 276.6h0M643.5 276.5h0M652.4 276.4h0M643.7 282.2h0M660.5 276.6h0M644.3 279.1h0M641.4 281.9h0M645.0 279.9h0M651.5 278.9h0M648.8 279.9h0M653.5 276.0h0M641.4 281.0h0M648.1 280.8h0M651.3 279.3h0M660.5 275.6h0M658.6 271.9h0M651.6 277.3h0M645.6 276.3h0M641.5 279.2h0M653.0 281.8h0M651.4 277.1h0M649.5 280.0h0M654.9 279.7h0M649.3 280.5h0M656.2 273.2h0M645.4 282.5h0M646.2 280.3h0M659.1 273.7h0M651.8 276.4h0M660.1 279.2h0M640.3 280.7h0M659.4 277.0h0M640.3 280.9h0M655.5 275.4h0M651.8 278.9h0M641.7 280.8h0M645.7 276.3h0M649.6 282.0h0M651.3 278.6h0M649.8 277.3h0M639.6 283.2h0M660.9 276.9h0M646.8 281.6h0M654.9 276.7h0M659.5 277.2h0M660.5 274.1h0M643.0 277.8h0M658.7 276.0h0M650.3 278.9h0M653.5 276.9h0M644.4 279.4h0M642.2 282.5h0M651.8 275.6h0M640.8 287.4h0M662.8 279.4h0M658.9 269.4h0M660.4 270.9h0" stroke="#000" stroke-width="1.8" stroke-linecap="round" fill="none"/>
<path d="M637.9 279.3L662.6 273.4" stroke="#DA62A5" stroke-width="1.9" fill="none"/>
<text x="647.0" y="254.9" text-anchor="middle" font-size="9" fill="#111" stroke="#111" stroke-width="0.22">Th cell</text>
<rect x="695.8" y="245.6" width="89.0" height="13.3" fill="#D9D9D9"/>
<rect x="695.8" y="258.9" width="89.0" height="58.7" fill="#EBEBEB"/>
<path d="M710.2 258.9V317.6M731.5 258.9V317.6M752.9 258.9V317.6M774.3 258.9V317.6M695.8 309.2H784.8M695.8 295H784.8M695.8 280.8H784.8M695.8 266.6H784.8" stroke="#fff" stroke-width="0.9" fill="none"/>
<path d="M699.5 258.9V317.6M720.9 258.9V317.6M742.2 258.9V317.6M763.6 258.9V317.6M695.8 316.3H784.8M695.8 302.1H784.8M695.8 287.9H784.8M695.8 273.7H784.8M695.8 259.5H784.8" stroke="#fff" stroke-width="1.1" fill="none"/>
<path d="M716.4 292.1h0M724.1 287.1h0M729.3 287.8h0M729.3 286.8h0M732.8 281.1h0M734.6 276.1h0M739.3 283.9h0M740.7 273.1h0M740.7 274.3h0M741.5 278.8h0M743.3 280.5h0M746.8 274.4h0M747.3 280.5h0M749.4 277.1h0M752.0 273.4h0M753.7 277.7h0M757.2 275.6h0M742.2 279.9h0" stroke="#000" stroke-width="1.8" stroke-linecap="round" fill="none"/>
<path d="M716.4 288.7L757.2 272.6" stroke="#E5629C" stroke-width="1.9" fill="none"/>
<text x="740.3" y="254.9" text-anchor="middle" font-size="9" fill="#111" stroke="#111" stroke-width="0.22">Thyroid</text>
<text x="409.4" y="34.0" text-anchor="end" font-size="11.3" fill="#111" stroke="#111" stroke-width="0.2">1.00</text>
<text x="409.4" y="48.2" text-anchor="end" font-size="11.3" fill="#111" stroke="#111" stroke-width="0.2">0.75</text>
<text x="409.4" y="62.4" text-anchor="end" font-size="11.3" fill="#111" stroke="#111" stroke-width="0.2">0.50</text>
<text x="409.4" y="76.6" text-anchor="end" font-size="11.3" fill="#111" stroke="#111" stroke-width="0.2">0.25</text>
<text x="409.4" y="90.8" text-anchor="end" font-size="11.3" fill="#111" stroke="#111" stroke-width="0.2">0.00</text>
<text x="409.4" y="110.3" text-anchor="end" font-size="11.3" fill="#111" stroke="#111" stroke-width="0.2">1.00</text>
<text x="409.4" y="124.5" text-anchor="end" font-size="11.3" fill="#111" stroke="#111" stroke-width="0.2">0.75</text>
<text x="409.4" y="138.7" text-anchor="end" font-size="11.3" fill="#111" stroke="#111" stroke-width="0.2">0.50</text>
<text x="409.4" y="152.9" text-anchor="end" font-size="11.3" fill="#111" stroke="#111" stroke-width="0.2">0.25</text>
<text x="409.4" y="167.1" text-anchor="end" font-size="11.3" fill="#111" stroke="#111" stroke-width="0.2">0.00</text>
<text x="409.4" y="186.6" text-anchor="end" font-size="11.3" fill="#111" stroke="#111" stroke-width="0.2">1.00</text>
<text x="409.4" y="200.8" text-anchor="end" font-size="11.3" fill="#111" stroke="#111" stroke-width="0.2">0.75</text>
<text x="409.4" y="215.0" text-anchor="end" font-size="11.3" fill="#111" stroke="#111" stroke-width="0.2">0.50</text>
<text x="409.4" y="229.2" text-anchor="end" font-size="11.3" fill="#111" stroke="#111" stroke-width="0.2">0.25</text>
<text x="409.4" y="243.4" text-anchor="end" font-size="11.3" fill="#111" stroke="#111" stroke-width="0.2">0.00</text>
<text x="409.4" y="262.9" text-anchor="end" font-size="11.3" fill="#111" stroke="#111" stroke-width="0.2">1.00</text>
<text x="409.4" y="277.1" text-anchor="end" font-size="11.3" fill="#111" stroke="#111" stroke-width="0.2">0.75</text>
<text x="409.4" y="291.3" text-anchor="end" font-size="11.3" fill="#111" stroke="#111" stroke-width="0.2">0.50</text>
<text x="409.4" y="305.5" text-anchor="end" font-size="11.3" fill="#111" stroke="#111" stroke-width="0.2">0.25</text>
<text x="409.4" y="319.7" text-anchor="end" font-size="11.3" fill="#111" stroke="#111" stroke-width="0.2">0.00</text>
<text x="421.5" y="333.9" text-anchor="middle" font-size="11.6" fill="#111" stroke="#111" stroke-width="0.2">0</text>
<text x="442.9" y="333.9" text-anchor="middle" font-size="11.6" fill="#111" stroke="#111" stroke-width="0.2">30</text>
<text x="464.2" y="333.9" text-anchor="middle" font-size="11.6" fill="#111" stroke="#111" stroke-width="0.2">60</text>
<text x="485.6" y="333.9" text-anchor="middle" font-size="11.6" fill="#111" stroke="#111" stroke-width="0.2">90</text>
<text x="514.8" y="333.9" text-anchor="middle" font-size="11.6" fill="#111" stroke="#111" stroke-width="0.2">0</text>
<text x="536.1" y="333.9" text-anchor="middle" font-size="11.6" fill="#111" stroke="#111" stroke-width="0.2">30</text>
<text x="557.5" y="333.9" text-anchor="middle" font-size="11.6" fill="#111" stroke="#111" stroke-width="0.2">60</text>
<text x="578.9" y="333.9" text-anchor="middle" font-size="11.6" fill="#111" stroke="#111" stroke-width="0.2">90</text>
<text x="608.0" y="333.9" text-anchor="middle" font-size="11.6" fill="#111" stroke="#111" stroke-width="0.2">0</text>
<text x="629.4" y="333.9" text-anchor="middle" font-size="11.6" fill="#111" stroke="#111" stroke-width="0.2">30</text>
<text x="650.8" y="333.9" text-anchor="middle" font-size="11.6" fill="#111" stroke="#111" stroke-width="0.2">60</text>
<text x="672.1" y="333.9" text-anchor="middle" font-size="11.6" fill="#111" stroke="#111" stroke-width="0.2">90</text>
<text x="701.3" y="333.9" text-anchor="middle" font-size="11.6" fill="#111" stroke="#111" stroke-width="0.2">0</text>
<text x="722.7" y="333.9" text-anchor="middle" font-size="11.6" fill="#111" stroke="#111" stroke-width="0.2">30</text>
<text x="744.0" y="333.9" text-anchor="middle" font-size="11.6" fill="#111" stroke="#111" stroke-width="0.2">60</text>
<text x="765.4" y="333.9" text-anchor="middle" font-size="11.6" fill="#111" stroke="#111" stroke-width="0.2">90</text>
<path d="M413.4 30.6H416M413.4 44.8H416M413.4 59H416M413.4 73.2H416M413.4 87.4H416M413.4 106.9H416M413.4 121.1H416M413.4 135.3H416M413.4 149.5H416M413.4 163.7H416M413.4 183.2H416M413.4 197.4H416M413.4 211.6H416M413.4 225.8H416M413.4 240H416M413.4 259.5H416M413.4 273.7H416M413.4 287.9H416M413.4 302.1H416M413.4 316.3H416M419.7 317.6V320.2M441.1 317.6V320.2M462.4 317.6V320.2M483.8 317.6V320.2M513 317.6V320.2M534.3 317.6V320.2M555.7 317.6V320.2M577.1 317.6V320.2M606.2 317.6V320.2M627.6 317.6V320.2M649 317.6V320.2M670.3 317.6V320.2M699.5 317.6V320.2M720.9 317.6V320.2M742.2 317.6V320.2M763.6 317.6V320.2" stroke="#333" stroke-width="1" fill="none"/>
<text x="601.7" y="352.8" text-anchor="middle" font-size="11.8" fill="#000" stroke="#000" stroke-width="0.15" textLength="59.3" lengthAdjust="spacingAndGlyphs">Age (years)</text>
<text transform="translate(380.2,166.8) rotate(-90)" x="0" y="0" text-anchor="middle" font-size="11.8" fill="#000" stroke="#000" stroke-width="0.15" textLength="92.0" lengthAdjust="spacingAndGlyphs">DNA methylation</text>
<text x="394.2" y="19.7" font-size="17" font-weight="bold" fill="#000">b</text>
</svg>
</body></html>
